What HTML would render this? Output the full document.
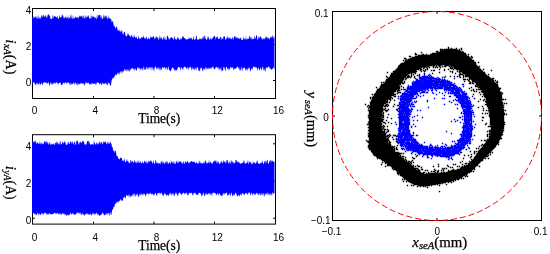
<!DOCTYPE html>
<html><head><meta charset="utf-8"><title>figure</title><style>html,body{margin:0;padding:0;background:#fff;overflow:hidden}svg{display:block}</style></head><body>
<svg width="550" height="254" viewBox="0 0 550 254">
<rect width="550" height="254" fill="#fff"/>
<g fill="none" stroke="#000" stroke-width="1">
<rect x="32.5" y="8.5" width="243.0" height="90.0"/>
<path d="M93.5,98.5V96.0M93.5,8.5V11.0M154.0,98.5V96.0M154.0,8.5V11.0M214.5,98.5V96.0M214.5,8.5V11.0M32.5,44.5H35.0M275.5,44.5H273.0M32.5,80.5H35.0M275.5,80.5H273.0"/>
</g>
<g fill="none" stroke="#000" stroke-width="1">
<rect x="32.5" y="134.7" width="243.0" height="89.4"/>
<path d="M93.5,224.1V221.6M93.5,134.7V137.2M154.0,224.1V221.6M154.0,134.7V137.2M214.5,224.1V221.6M214.5,134.7V137.2M32.5,143.8H35.0M275.5,143.8H273.0M32.5,181.0H35.0M275.5,181.0H273.0M32.5,218.2H35.0M275.5,218.2H273.0"/>
</g>
<polygon fill="#0000ff" points="32.0,19.1 32.5,15.3 33.0,19.0 33.5,17.4 34.0,15.7 34.5,17.9 35.0,17.6 35.5,15.7 36.0,18.4 36.5,16.0 37.0,19.2 37.5,18.3 38.0,14.6 38.5,17.4 39.0,19.2 39.5,17.9 40.0,16.2 40.5,18.7 41.0,18.3 41.5,15.8 42.0,15.0 42.5,16.1 43.0,17.7 43.5,14.7 44.0,14.9 44.5,17.4 45.0,16.0 45.5,14.7 46.0,16.9 46.5,16.6 47.0,18.8 47.5,15.6 48.0,14.3 48.5,14.9 49.0,14.0 49.5,16.6 50.0,15.4 50.5,19.1 51.0,19.1 51.5,18.7 52.0,19.0 52.5,17.3 53.0,14.0 53.5,18.7 54.0,15.9 54.5,16.1 55.0,16.7 55.5,16.2 56.0,16.9 56.5,17.3 57.0,17.4 57.5,15.5 58.0,19.2 58.5,18.7 59.0,17.9 59.5,14.4 60.0,18.1 60.5,17.4 61.0,17.0 61.5,16.9 62.0,14.1 62.5,15.7 63.0,15.1 63.5,17.4 64.0,18.5 64.5,18.2 65.0,16.8 65.5,17.6 66.0,15.9 66.5,18.8 67.0,17.8 67.5,18.1 68.0,14.3 68.5,18.9 69.0,18.1 69.5,17.0 70.0,19.0 70.5,16.2 71.0,13.7 71.5,17.0 72.0,19.1 72.5,18.8 73.0,14.2 73.5,19.2 74.0,17.7 74.5,18.6 75.0,17.8 75.5,16.0 76.0,18.0 76.5,17.3 77.0,17.2 77.5,17.6 78.0,16.9 78.5,19.2 79.0,15.5 79.5,16.9 80.0,14.7 80.5,17.0 81.0,16.2 81.5,16.2 82.0,15.4 82.5,19.2 83.0,14.8 83.5,16.4 84.0,18.0 84.5,19.1 85.0,14.7 85.5,18.9 86.0,14.6 86.5,18.4 87.0,16.3 87.5,17.3 88.0,15.8 88.5,15.2 89.0,17.6 89.5,18.4 90.0,18.7 90.5,18.8 91.0,14.5 91.5,18.9 92.0,14.6 92.5,17.7 93.0,15.7 93.5,16.4 94.0,18.0 94.5,16.8 95.0,17.2 95.5,17.6 96.0,18.8 96.5,19.2 97.0,13.8 97.5,18.4 98.0,16.6 98.5,15.1 99.0,14.7 99.5,15.2 100.0,14.4 100.5,16.6 101.0,18.7 101.5,14.3 102.0,19.2 102.5,18.2 103.0,18.9 103.5,14.0 104.0,17.9 104.5,15.0 105.0,19.1 105.5,14.8 106.0,16.3 106.5,16.4 107.0,17.0 107.5,18.8 108.0,19.2 108.5,14.7 109.0,19.1 109.5,18.2 110.0,17.7 110.5,19.0 111.0,19.1 111.5,21.0 112.0,23.1 112.5,21.0 113.0,21.0 113.5,24.3 114.0,26.4 114.5,25.8 115.0,27.3 115.5,28.5 116.0,28.3 116.5,26.5 117.0,25.8 117.5,30.0 118.0,31.1 118.5,29.4 119.0,31.4 119.5,29.0 120.0,32.9 120.5,30.1 121.0,32.4 121.5,30.8 122.0,29.7 122.5,33.4 123.0,34.3 123.5,34.8 124.0,31.3 124.5,32.0 125.0,31.9 125.5,35.7 126.0,35.6 126.5,36.5 127.0,36.8 127.5,32.5 128.0,36.0 128.5,33.3 129.0,34.8 129.5,35.7 130.0,35.9 130.5,37.7 131.0,34.9 131.5,34.9 132.0,37.1 132.5,37.2 133.0,34.7 133.5,38.0 134.0,37.3 134.5,33.9 135.0,38.2 135.5,37.1 136.0,37.8 136.5,36.2 137.0,38.4 137.5,38.9 138.0,39.0 138.5,35.8 139.0,37.5 139.5,38.7 140.0,38.9 140.5,38.3 141.0,38.7 141.5,36.5 142.0,37.7 142.5,37.3 143.0,37.3 143.5,35.0 144.0,38.4 144.5,38.4 145.0,36.9 145.5,39.5 146.0,37.3 146.5,36.3 147.0,39.3 147.5,39.6 148.0,38.0 148.5,37.5 149.0,39.0 149.5,38.7 150.0,39.8 150.5,35.4 151.0,37.8 151.5,37.0 152.0,37.3 152.5,38.1 153.0,35.9 153.5,36.6 154.0,36.4 154.5,38.8 155.0,39.5 155.5,36.9 156.0,37.6 156.5,37.3 157.0,35.5 157.5,38.7 158.0,37.0 158.5,39.7 159.0,39.8 159.5,36.9 160.0,35.3 160.5,38.7 161.0,38.2 161.5,36.6 162.0,39.7 162.5,39.7 163.0,38.1 163.5,36.5 164.0,39.6 164.5,39.3 165.0,35.2 165.5,39.7 166.0,40.0 166.5,39.9 167.0,35.4 167.5,35.7 168.0,36.9 168.5,37.5 169.0,40.0 169.5,39.2 170.0,38.1 170.5,37.5 171.0,38.4 171.5,36.4 172.0,38.2 172.5,37.5 173.0,38.6 173.5,39.2 174.0,39.8 174.5,36.0 175.0,37.1 175.5,39.9 176.0,38.4 176.5,39.8 177.0,39.7 177.5,37.1 178.0,37.5 178.5,38.3 179.0,39.3 179.5,39.7 180.0,39.9 180.5,39.1 181.0,37.0 181.5,39.6 182.0,38.7 182.5,36.4 183.0,36.2 183.5,36.2 184.0,38.5 184.5,37.8 185.0,38.5 185.5,38.4 186.0,40.0 186.5,38.7 187.0,39.8 187.5,39.2 188.0,38.7 188.5,39.2 189.0,36.6 189.5,39.5 190.0,37.8 190.5,37.9 191.0,39.3 191.5,36.9 192.0,39.2 192.5,39.8 193.0,38.9 193.5,35.6 194.0,39.8 194.5,40.0 195.0,39.1 195.5,39.7 196.0,35.9 196.5,35.2 197.0,39.1 197.5,39.7 198.0,39.6 198.5,39.3 199.0,40.0 199.5,38.6 200.0,38.2 200.5,39.6 201.0,38.3 201.5,39.1 202.0,39.9 202.5,36.4 203.0,38.7 203.5,35.4 204.0,39.8 204.5,35.6 205.0,35.5 205.5,38.2 206.0,38.9 206.5,39.8 207.0,40.0 207.5,37.7 208.0,36.0 208.5,37.6 209.0,38.3 209.5,39.9 210.0,39.5 210.5,37.5 211.0,39.4 211.5,39.7 212.0,37.1 212.5,39.3 213.0,37.7 213.5,36.1 214.0,37.5 214.5,35.6 215.0,35.7 215.5,40.0 216.0,36.9 216.5,37.4 217.0,37.5 217.5,35.6 218.0,39.0 218.5,38.8 219.0,39.1 219.5,39.1 220.0,36.8 220.5,37.4 221.0,36.6 221.5,39.7 222.0,39.3 222.5,37.6 223.0,39.9 223.5,36.1 224.0,37.1 224.5,36.1 225.0,36.9 225.5,40.0 226.0,39.8 226.5,38.5 227.0,37.5 227.5,37.6 228.0,35.5 228.5,39.3 229.0,37.5 229.5,37.8 230.0,39.2 230.5,37.6 231.0,39.2 231.5,38.3 232.0,39.7 232.5,37.4 233.0,36.3 233.5,39.9 234.0,38.0 234.5,35.7 235.0,36.5 235.5,38.2 236.0,35.3 236.5,38.7 237.0,37.5 237.5,37.5 238.0,38.9 238.5,38.0 239.0,37.7 239.5,39.1 240.0,38.7 240.5,38.1 241.0,37.3 241.5,40.0 242.0,39.9 242.5,40.0 243.0,39.7 243.5,36.0 244.0,39.4 244.5,38.7 245.0,38.4 245.5,39.9 246.0,35.4 246.5,39.9 247.0,39.0 247.5,39.4 248.0,37.2 248.5,38.9 249.0,38.9 249.5,35.6 250.0,36.3 250.5,39.5 251.0,36.1 251.5,39.8 252.0,36.8 252.5,39.9 253.0,38.7 253.5,39.0 254.0,39.0 254.5,35.2 255.0,39.1 255.5,38.5 256.0,36.0 256.5,35.2 257.0,35.3 257.5,39.9 258.0,39.7 258.5,36.0 259.0,39.1 259.5,36.1 260.0,38.4 260.5,36.5 261.0,35.7 261.5,39.5 262.0,37.0 262.5,39.9 263.0,39.5 263.5,38.4 264.0,37.9 264.5,38.4 265.0,39.8 265.5,37.4 266.0,35.7 266.5,37.8 267.0,36.9 267.5,37.4 268.0,38.9 268.5,37.3 269.0,39.1 269.5,39.2 270.0,37.7 270.5,37.1 271.0,36.9 271.5,38.1 272.0,35.4 272.5,35.5 273.0,38.8 273.5,37.5 274.0,35.7 274.5,37.6 274.5,70.7 274.0,67.8 273.5,67.5 273.0,68.3 272.5,69.2 272.0,68.3 271.5,70.2 271.0,69.4 270.5,68.0 270.0,69.5 269.5,67.2 269.0,66.6 268.5,66.7 268.0,66.8 267.5,69.1 267.0,66.6 266.5,68.4 266.0,66.7 265.5,71.6 265.0,71.4 264.5,68.2 264.0,71.1 263.5,69.9 263.0,66.8 262.5,66.7 262.0,69.3 261.5,69.2 261.0,70.8 260.5,66.9 260.0,68.8 259.5,70.7 259.0,68.8 258.5,67.1 258.0,69.9 257.5,70.6 257.0,67.6 256.5,67.9 256.0,67.0 255.5,67.6 255.0,67.5 254.5,66.9 254.0,66.6 253.5,66.8 253.0,67.1 252.5,70.1 252.0,68.7 251.5,68.2 251.0,69.8 250.5,71.6 250.0,70.7 249.5,66.6 249.0,69.5 248.5,68.0 248.0,67.5 247.5,71.3 247.0,67.8 246.5,71.1 246.0,68.8 245.5,70.8 245.0,68.0 244.5,67.5 244.0,67.4 243.5,68.3 243.0,68.3 242.5,71.7 242.0,67.1 241.5,66.8 241.0,71.7 240.5,68.8 240.0,70.5 239.5,69.9 239.0,66.6 238.5,68.8 238.0,68.1 237.5,66.6 237.0,66.7 236.5,68.3 236.0,67.7 235.5,68.5 235.0,69.3 234.5,68.5 234.0,70.0 233.5,69.7 233.0,66.8 232.5,67.6 232.0,68.6 231.5,67.8 231.0,67.0 230.5,66.7 230.0,69.8 229.5,68.1 229.0,71.2 228.5,68.9 228.0,67.9 227.5,70.1 227.0,67.0 226.5,67.3 226.0,66.9 225.5,70.9 225.0,70.3 224.5,68.0 224.0,66.6 223.5,67.2 223.0,71.3 222.5,70.8 222.0,70.2 221.5,71.5 221.0,66.7 220.5,70.3 220.0,67.5 219.5,70.9 219.0,66.8 218.5,68.2 218.0,70.1 217.5,66.7 217.0,67.8 216.5,66.8 216.0,67.6 215.5,67.6 215.0,68.9 214.5,69.8 214.0,69.2 213.5,67.3 213.0,67.4 212.5,66.9 212.0,66.8 211.5,69.4 211.0,67.3 210.5,69.0 210.0,68.0 209.5,69.3 209.0,66.7 208.5,69.0 208.0,69.5 207.5,68.6 207.0,68.4 206.5,66.9 206.0,71.2 205.5,66.7 205.0,68.3 204.5,69.3 204.0,70.6 203.5,67.5 203.0,71.6 202.5,70.8 202.0,68.5 201.5,67.5 201.0,68.5 200.5,67.3 200.0,71.4 199.5,69.9 199.0,71.2 198.5,70.9 198.0,67.0 197.5,68.1 197.0,66.7 196.5,70.7 196.0,67.0 195.5,70.5 195.0,66.8 194.5,70.4 194.0,69.0 193.5,68.5 193.0,69.4 192.5,66.6 192.0,70.9 191.5,69.5 191.0,66.9 190.5,66.7 190.0,68.4 189.5,67.4 189.0,66.6 188.5,69.7 188.0,69.4 187.5,66.7 187.0,68.4 186.5,68.7 186.0,68.0 185.5,67.0 185.0,66.9 184.5,66.6 184.0,66.9 183.5,67.6 183.0,70.4 182.5,68.2 182.0,69.3 181.5,66.8 181.0,68.1 180.5,71.7 180.0,66.6 179.5,68.0 179.0,67.4 178.5,66.7 178.0,67.2 177.5,68.6 177.0,71.5 176.5,70.0 176.0,69.6 175.5,70.9 175.0,69.0 174.5,70.6 174.0,70.4 173.5,67.1 173.0,69.3 172.5,67.1 172.0,68.1 171.5,68.9 171.0,70.7 170.5,71.6 170.0,70.2 169.5,70.0 169.0,70.6 168.5,66.7 168.0,66.6 167.5,71.0 167.0,68.5 166.5,66.7 166.0,70.3 165.5,68.3 165.0,67.0 164.5,66.7 164.0,69.2 163.5,67.8 163.0,67.3 162.5,67.0 162.0,68.6 161.5,70.8 161.0,67.7 160.5,70.9 160.0,66.7 159.5,71.3 159.0,67.2 158.5,67.6 158.0,70.3 157.5,68.0 157.0,67.9 156.5,70.0 156.0,66.8 155.5,66.7 155.0,66.8 154.5,68.6 154.0,71.7 153.5,67.9 153.0,70.9 152.5,67.4 152.0,66.9 151.5,67.5 151.0,71.2 150.5,66.7 150.0,67.4 149.5,67.1 149.0,69.8 148.5,66.8 148.0,69.8 147.5,67.0 147.0,70.4 146.5,66.8 146.0,67.6 145.5,70.6 145.0,69.0 144.5,70.5 144.0,66.8 143.5,66.9 143.0,71.3 142.5,69.2 142.0,68.2 141.5,68.1 141.0,70.2 140.5,68.3 140.0,71.0 139.5,67.0 139.0,68.5 138.5,68.2 138.0,67.2 137.5,67.2 137.0,69.8 136.5,70.9 136.0,69.5 135.5,69.4 135.0,67.6 134.5,71.6 134.0,68.3 133.5,70.5 133.0,67.7 132.5,68.2 132.0,68.2 131.5,68.4 131.0,70.2 130.5,70.1 130.0,67.9 129.5,72.8 129.0,69.9 128.5,71.6 128.0,68.6 127.5,71.7 127.0,68.4 126.5,72.0 126.0,68.8 125.5,71.7 125.0,69.0 124.5,69.3 124.0,70.9 123.5,71.2 123.0,71.7 122.5,71.2 122.0,74.4 121.5,70.1 121.0,72.7 120.5,72.2 120.0,70.8 119.5,75.5 119.0,72.3 118.5,74.5 118.0,72.5 117.5,73.1 117.0,75.3 116.5,75.1 116.0,74.0 115.5,74.4 115.0,76.7 114.5,75.4 114.0,78.7 113.5,78.0 113.0,76.8 112.5,79.3 112.0,79.1 111.5,81.1 111.0,85.5 110.5,85.6 110.0,85.6 109.5,83.2 109.0,82.9 108.5,82.3 108.0,84.2 107.5,85.9 107.0,82.3 106.5,84.4 106.0,84.6 105.5,83.3 105.0,82.3 104.5,84.5 104.0,83.4 103.5,83.4 103.0,84.7 102.5,82.1 102.0,84.1 101.5,85.4 101.0,83.3 100.5,83.6 100.0,83.3 99.5,84.8 99.0,83.2 98.5,82.3 98.0,83.3 97.5,82.3 97.0,82.4 96.5,85.0 96.0,82.1 95.5,85.4 95.0,82.7 94.5,84.2 94.0,84.0 93.5,84.1 93.0,83.1 92.5,84.3 92.0,82.3 91.5,83.9 91.0,85.2 90.5,83.8 90.0,83.5 89.5,85.2 89.0,83.6 88.5,83.0 88.0,81.9 87.5,84.0 87.0,82.2 86.5,82.8 86.0,82.9 85.5,82.1 85.0,85.7 84.5,85.1 84.0,84.3 83.5,82.9 83.0,83.9 82.5,83.5 82.0,83.2 81.5,83.8 81.0,82.6 80.5,83.6 80.0,84.2 79.5,84.1 79.0,84.2 78.5,82.7 78.0,85.7 77.5,85.2 77.0,82.2 76.5,84.7 76.0,84.6 75.5,82.6 75.0,82.4 74.5,84.1 74.0,85.0 73.5,82.0 73.0,83.5 72.5,84.6 72.0,83.7 71.5,85.2 71.0,82.1 70.5,85.2 70.0,83.0 69.5,85.5 69.0,82.3 68.5,82.5 68.0,82.4 67.5,82.3 67.0,84.1 66.5,83.4 66.0,82.0 65.5,82.9 65.0,82.0 64.5,83.8 64.0,83.6 63.5,82.7 63.0,82.4 62.5,84.8 62.0,85.0 61.5,84.5 61.0,85.4 60.5,82.0 60.0,82.7 59.5,82.9 59.0,82.8 58.5,84.5 58.0,83.4 57.5,82.9 57.0,83.5 56.5,82.1 56.0,82.3 55.5,83.4 55.0,84.1 54.5,82.8 54.0,81.9 53.5,83.5 53.0,84.3 52.5,85.0 52.0,82.5 51.5,85.1 51.0,82.2 50.5,82.8 50.0,84.7 49.5,85.7 49.0,83.9 48.5,82.2 48.0,82.3 47.5,83.6 47.0,84.5 46.5,82.2 46.0,82.9 45.5,82.5 45.0,82.5 44.5,82.1 44.0,82.9 43.5,82.0 43.0,84.5 42.5,84.9 42.0,84.0 41.5,82.3 41.0,84.5 40.5,83.9 40.0,85.5 39.5,82.0 39.0,84.3 38.5,84.6 38.0,83.7 37.5,82.6 37.0,85.7 36.5,82.5 36.0,84.0 35.5,85.6 35.0,83.7 34.5,83.4 34.0,82.1 33.5,82.2 33.0,83.0 32.5,83.7 32.0,82.4"/>
<polygon fill="#0000ff" points="32.0,140.8 32.5,140.6 33.0,142.8 33.5,141.7 34.0,141.3 34.5,141.1 35.0,143.7 35.5,140.5 36.0,140.6 36.5,144.7 37.0,142.3 37.5,142.5 38.0,143.4 38.5,143.4 39.0,144.0 39.5,143.3 40.0,140.8 40.5,144.4 41.0,143.4 41.5,143.5 42.0,142.3 42.5,144.6 43.0,144.0 43.5,144.5 44.0,141.2 44.5,142.1 45.0,141.0 45.5,141.6 46.0,143.9 46.5,140.6 47.0,143.4 47.5,141.1 48.0,144.2 48.5,144.8 49.0,141.2 49.5,144.5 50.0,141.8 50.5,144.5 51.0,144.9 51.5,143.2 52.0,144.9 52.5,144.0 53.0,144.1 53.5,143.0 54.0,144.9 54.5,144.9 55.0,143.5 55.5,142.5 56.0,143.4 56.5,140.8 57.0,144.9 57.5,142.3 58.0,142.0 58.5,143.9 59.0,144.6 59.5,144.3 60.0,141.0 60.5,141.6 61.0,145.0 61.5,143.4 62.0,144.0 62.5,141.4 63.0,142.0 63.5,143.2 64.0,143.4 64.5,141.1 65.0,141.5 65.5,142.7 66.0,144.9 66.5,144.9 67.0,144.5 67.5,144.5 68.0,141.5 68.5,142.3 69.0,143.9 69.5,143.9 70.0,141.9 70.5,141.8 71.0,140.9 71.5,144.1 72.0,141.8 72.5,141.2 73.0,144.2 73.5,144.3 74.0,142.0 74.5,142.7 75.0,140.6 75.5,144.9 76.0,145.0 76.5,140.4 77.0,140.9 77.5,140.6 78.0,141.5 78.5,143.9 79.0,145.0 79.5,142.0 80.0,142.7 80.5,141.1 81.0,142.9 81.5,143.2 82.0,141.6 82.5,141.6 83.0,141.0 83.5,141.0 84.0,142.1 84.5,144.8 85.0,144.3 85.5,144.5 86.0,144.8 86.5,144.3 87.0,141.7 87.5,141.2 88.0,140.8 88.5,140.4 89.0,144.2 89.5,140.8 90.0,144.4 90.5,144.4 91.0,144.6 91.5,144.2 92.0,144.4 92.5,144.1 93.0,144.7 93.5,144.7 94.0,140.4 94.5,142.6 95.0,143.5 95.5,145.0 96.0,143.6 96.5,142.1 97.0,144.9 97.5,144.1 98.0,142.1 98.5,143.8 99.0,144.8 99.5,141.1 100.0,142.1 100.5,143.0 101.0,144.1 101.5,142.0 102.0,141.5 102.5,144.4 103.0,144.1 103.5,141.0 104.0,142.1 104.5,141.8 105.0,143.1 105.5,140.7 106.0,142.3 106.5,144.5 107.0,143.5 107.5,143.3 108.0,140.5 108.5,143.7 109.0,143.7 109.5,143.7 110.0,140.9 110.5,142.4 111.0,143.3 111.5,144.0 112.0,147.3 112.5,146.5 113.0,149.7 113.5,151.4 114.0,149.4 114.5,153.4 115.0,150.4 115.5,151.1 116.0,151.6 116.5,156.0 117.0,155.9 117.5,156.1 118.0,158.1 118.5,158.5 119.0,158.9 119.5,159.5 120.0,158.6 120.5,157.3 121.0,157.9 121.5,158.0 122.0,158.5 122.5,161.4 123.0,160.1 123.5,161.8 124.0,160.1 124.5,158.0 125.0,161.8 125.5,162.2 126.0,162.1 126.5,160.5 127.0,158.9 127.5,161.3 128.0,161.5 128.5,161.4 129.0,163.2 129.5,162.7 130.0,163.4 130.5,159.8 131.0,160.3 131.5,161.5 132.0,163.1 132.5,160.4 133.0,161.3 133.5,162.7 134.0,162.8 134.5,159.6 135.0,161.8 135.5,161.5 136.0,163.7 136.5,163.0 137.0,160.6 137.5,163.5 138.0,159.7 138.5,161.7 139.0,162.9 139.5,163.5 140.0,160.0 140.5,161.8 141.0,163.3 141.5,162.7 142.0,163.6 142.5,160.4 143.0,163.5 143.5,163.3 144.0,162.1 144.5,160.4 145.0,161.7 145.5,161.6 146.0,164.0 146.5,160.2 147.0,164.2 147.5,161.6 148.0,163.8 148.5,160.2 149.0,161.5 149.5,161.6 150.0,162.6 150.5,159.6 151.0,160.8 151.5,161.2 152.0,162.3 152.5,164.1 153.0,162.0 153.5,160.1 154.0,163.2 154.5,163.7 155.0,163.8 155.5,159.9 156.0,160.3 156.5,163.8 157.0,162.1 157.5,163.1 158.0,164.0 158.5,162.5 159.0,164.1 159.5,162.6 160.0,164.2 160.5,164.1 161.0,160.0 161.5,163.1 162.0,161.0 162.5,164.1 163.0,160.1 163.5,163.7 164.0,161.6 164.5,164.1 165.0,164.1 165.5,161.8 166.0,162.0 166.5,160.7 167.0,164.2 167.5,160.9 168.0,162.9 168.5,164.2 169.0,162.4 169.5,161.7 170.0,163.5 170.5,163.9 171.0,160.6 171.5,161.6 172.0,163.0 172.5,162.7 173.0,161.0 173.5,164.0 174.0,160.4 174.5,163.7 175.0,164.0 175.5,164.0 176.0,161.0 176.5,162.5 177.0,159.7 177.5,163.5 178.0,161.9 178.5,163.5 179.0,159.9 179.5,162.2 180.0,161.5 180.5,161.3 181.0,161.9 181.5,161.7 182.0,164.1 182.5,163.8 183.0,162.0 183.5,161.0 184.0,163.9 184.5,164.1 185.0,161.6 185.5,161.5 186.0,162.1 186.5,163.3 187.0,161.2 187.5,160.6 188.0,162.3 188.5,163.4 189.0,161.6 189.5,164.1 190.0,161.4 190.5,162.5 191.0,160.8 191.5,161.3 192.0,161.6 192.5,162.0 193.0,161.6 193.5,162.0 194.0,161.7 194.5,161.7 195.0,162.7 195.5,164.0 196.0,161.4 196.5,162.7 197.0,163.1 197.5,162.9 198.0,164.1 198.5,164.2 199.0,159.8 199.5,163.2 200.0,160.6 200.5,163.1 201.0,163.7 201.5,163.2 202.0,162.8 202.5,164.2 203.0,162.1 203.5,162.3 204.0,163.9 204.5,162.7 205.0,161.4 205.5,160.6 206.0,160.6 206.5,163.8 207.0,163.4 207.5,163.1 208.0,162.6 208.5,162.9 209.0,159.9 209.5,164.2 210.0,160.0 210.5,162.5 211.0,162.9 211.5,162.6 212.0,164.0 212.5,163.7 213.0,161.9 213.5,161.2 214.0,162.3 214.5,160.7 215.0,159.9 215.5,162.1 216.0,159.8 216.5,162.1 217.0,164.1 217.5,160.4 218.0,164.0 218.5,160.7 219.0,162.6 219.5,164.2 220.0,164.0 220.5,161.5 221.0,163.7 221.5,161.0 222.0,160.8 222.5,163.2 223.0,162.9 223.5,159.6 224.0,162.5 224.5,161.8 225.0,161.0 225.5,162.4 226.0,163.9 226.5,160.5 227.0,159.7 227.5,159.7 228.0,162.5 228.5,164.0 229.0,161.3 229.5,163.4 230.0,159.8 230.5,163.3 231.0,163.9 231.5,159.7 232.0,162.0 232.5,160.8 233.0,164.1 233.5,161.6 234.0,163.5 234.5,163.1 235.0,163.3 235.5,159.7 236.0,160.6 236.5,159.8 237.0,163.2 237.5,161.2 238.0,161.4 238.5,163.0 239.0,161.0 239.5,163.6 240.0,162.6 240.5,164.1 241.0,163.7 241.5,163.0 242.0,163.2 242.5,163.3 243.0,162.1 243.5,160.1 244.0,163.9 244.5,159.9 245.0,164.1 245.5,163.8 246.0,162.9 246.5,162.4 247.0,163.6 247.5,162.0 248.0,159.7 248.5,163.7 249.0,164.2 249.5,160.7 250.0,162.7 250.5,161.8 251.0,162.2 251.5,164.2 252.0,164.1 252.5,164.2 253.0,160.6 253.5,163.6 254.0,161.7 254.5,163.3 255.0,162.6 255.5,163.7 256.0,163.4 256.5,162.3 257.0,160.2 257.5,161.1 258.0,163.9 258.5,162.7 259.0,164.0 259.5,163.8 260.0,164.0 260.5,162.0 261.0,164.1 261.5,162.3 262.0,162.5 262.5,159.9 263.0,164.0 263.5,163.8 264.0,162.9 264.5,161.7 265.0,160.6 265.5,161.1 266.0,163.9 266.5,161.4 267.0,160.3 267.5,159.6 268.0,163.2 268.5,164.0 269.0,162.8 269.5,161.1 270.0,160.7 270.5,159.6 271.0,163.3 271.5,160.5 272.0,160.6 272.5,160.9 273.0,161.3 273.5,162.2 274.0,161.1 274.5,162.7 274.5,193.5 274.0,193.1 273.5,194.3 273.0,192.4 272.5,192.6 272.0,196.3 271.5,192.9 271.0,196.4 270.5,192.4 270.0,195.9 269.5,193.6 269.0,194.7 268.5,194.5 268.0,192.7 267.5,192.4 267.0,196.5 266.5,192.7 266.0,194.3 265.5,194.4 265.0,192.7 264.5,196.4 264.0,196.5 263.5,193.6 263.0,193.1 262.5,196.0 262.0,192.6 261.5,194.3 261.0,195.8 260.5,195.2 260.0,192.7 259.5,193.4 259.0,195.6 258.5,195.3 258.0,192.4 257.5,194.7 257.0,193.2 256.5,192.8 256.0,193.6 255.5,195.5 255.0,193.5 254.5,195.0 254.0,192.7 253.5,193.6 253.0,195.4 252.5,195.3 252.0,193.0 251.5,192.5 251.0,195.0 250.5,195.5 250.0,192.8 249.5,192.4 249.0,192.5 248.5,192.8 248.0,194.6 247.5,194.9 247.0,192.6 246.5,194.1 246.0,192.5 245.5,193.4 245.0,194.0 244.5,194.3 244.0,196.1 243.5,193.4 243.0,194.1 242.5,193.0 242.0,193.3 241.5,195.7 241.0,195.3 240.5,193.2 240.0,195.7 239.5,196.7 239.0,194.0 238.5,195.7 238.0,195.5 237.5,196.6 237.0,195.6 236.5,194.7 236.0,192.5 235.5,192.9 235.0,193.8 234.5,194.9 234.0,195.9 233.5,194.0 233.0,195.2 232.5,196.4 232.0,195.2 231.5,192.6 231.0,193.1 230.5,195.8 230.0,196.3 229.5,192.5 229.0,195.2 228.5,194.3 228.0,196.1 227.5,195.2 227.0,193.3 226.5,192.6 226.0,192.8 225.5,194.1 225.0,193.0 224.5,193.5 224.0,195.6 223.5,192.7 223.0,193.6 222.5,195.6 222.0,196.5 221.5,194.7 221.0,196.7 220.5,194.9 220.0,194.5 219.5,193.5 219.0,192.8 218.5,196.1 218.0,194.4 217.5,193.0 217.0,194.0 216.5,196.1 216.0,193.4 215.5,193.7 215.0,192.9 214.5,192.9 214.0,192.6 213.5,192.7 213.0,193.3 212.5,192.5 212.0,196.6 211.5,194.6 211.0,193.3 210.5,193.4 210.0,196.5 209.5,192.8 209.0,194.3 208.5,192.5 208.0,194.6 207.5,194.1 207.0,195.6 206.5,192.6 206.0,195.0 205.5,192.6 205.0,196.4 204.5,196.1 204.0,195.0 203.5,192.4 203.0,193.1 202.5,195.8 202.0,195.1 201.5,196.4 201.0,194.2 200.5,193.3 200.0,192.7 199.5,192.7 199.0,192.9 198.5,193.2 198.0,195.6 197.5,195.3 197.0,193.8 196.5,194.9 196.0,194.6 195.5,192.8 195.0,193.8 194.5,192.7 194.0,192.6 193.5,194.0 193.0,195.4 192.5,195.3 192.0,192.7 191.5,193.3 191.0,192.5 190.5,193.7 190.0,192.5 189.5,192.6 189.0,195.0 188.5,194.6 188.0,192.6 187.5,196.0 187.0,194.8 186.5,192.5 186.0,192.4 185.5,193.4 185.0,193.4 184.5,194.5 184.0,192.6 183.5,192.4 183.0,193.5 182.5,193.8 182.0,193.3 181.5,195.8 181.0,193.9 180.5,194.1 180.0,192.4 179.5,192.8 179.0,192.4 178.5,195.6 178.0,192.7 177.5,196.7 177.0,195.3 176.5,193.3 176.0,192.6 175.5,192.9 175.0,194.8 174.5,195.4 174.0,196.8 173.5,193.5 173.0,193.0 172.5,193.5 172.0,195.6 171.5,193.2 171.0,196.6 170.5,192.4 170.0,193.0 169.5,193.8 169.0,194.4 168.5,196.2 168.0,195.4 167.5,194.5 167.0,195.2 166.5,195.9 166.0,193.7 165.5,195.3 165.0,192.6 164.5,194.1 164.0,193.4 163.5,196.8 163.0,195.5 162.5,195.3 162.0,194.1 161.5,192.8 161.0,192.6 160.5,193.6 160.0,194.8 159.5,192.5 159.0,192.8 158.5,193.5 158.0,192.7 157.5,193.2 157.0,195.5 156.5,195.7 156.0,194.3 155.5,192.7 155.0,193.3 154.5,195.2 154.0,193.9 153.5,196.4 153.0,193.3 152.5,194.7 152.0,193.4 151.5,194.2 151.0,194.7 150.5,192.8 150.0,192.7 149.5,193.8 149.0,194.5 148.5,194.6 148.0,193.5 147.5,193.0 147.0,194.0 146.5,193.6 146.0,196.3 145.5,196.4 145.0,194.0 144.5,194.0 144.0,194.3 143.5,193.3 143.0,195.8 142.5,194.1 142.0,194.8 141.5,192.9 141.0,196.7 140.5,193.1 140.0,196.1 139.5,193.5 139.0,196.1 138.5,197.2 138.0,195.9 137.5,194.1 137.0,193.2 136.5,195.8 136.0,194.3 135.5,197.5 135.0,193.7 134.5,193.5 134.0,197.3 133.5,194.3 133.0,193.6 132.5,195.3 132.0,196.5 131.5,196.6 131.0,194.6 130.5,196.8 130.0,197.6 129.5,194.3 129.0,198.1 128.5,194.7 128.0,194.7 127.5,196.8 127.0,195.1 126.5,195.6 126.0,195.3 125.5,199.2 125.0,197.8 124.5,196.6 124.0,197.9 123.5,197.0 123.0,200.1 122.5,201.0 122.0,200.7 121.5,199.4 121.0,201.4 120.5,198.8 120.0,200.0 119.5,201.1 119.0,201.5 118.5,202.8 118.0,200.7 117.5,202.2 117.0,202.4 116.5,202.1 116.0,204.3 115.5,203.1 115.0,204.1 114.5,206.7 114.0,206.7 113.5,206.9 113.0,209.4 112.5,209.4 112.0,210.6 111.5,214.6 111.0,215.2 110.5,212.6 110.0,212.4 109.5,214.9 109.0,215.9 108.5,212.5 108.0,213.6 107.5,212.7 107.0,215.4 106.5,212.5 106.0,215.7 105.5,213.4 105.0,214.8 104.5,215.3 104.0,215.6 103.5,213.8 103.0,212.7 102.5,212.4 102.0,214.4 101.5,214.1 101.0,214.8 100.5,215.2 100.0,215.4 99.5,215.8 99.0,215.4 98.5,213.4 98.0,215.6 97.5,214.8 97.0,212.8 96.5,212.4 96.0,214.4 95.5,213.2 95.0,215.5 94.5,213.8 94.0,213.4 93.5,212.9 93.0,215.1 92.5,212.4 92.0,215.6 91.5,215.2 91.0,214.5 90.5,214.2 90.0,212.9 89.5,215.6 89.0,213.8 88.5,214.6 88.0,214.8 87.5,213.7 87.0,213.2 86.5,213.6 86.0,215.0 85.5,213.6 85.0,215.1 84.5,215.3 84.0,215.7 83.5,214.5 83.0,213.7 82.5,212.8 82.0,214.5 81.5,214.4 81.0,215.4 80.5,212.6 80.0,212.9 79.5,212.6 79.0,214.7 78.5,212.6 78.0,213.0 77.5,212.6 77.0,212.4 76.5,213.6 76.0,214.4 75.5,214.2 75.0,214.3 74.5,214.9 74.0,215.3 73.5,213.6 73.0,213.2 72.5,213.4 72.0,214.2 71.5,214.3 71.0,214.5 70.5,212.5 70.0,213.2 69.5,215.6 69.0,214.7 68.5,215.1 68.0,215.9 67.5,213.8 67.0,215.8 66.5,215.7 66.0,214.9 65.5,214.8 65.0,213.2 64.5,215.8 64.0,212.5 63.5,214.2 63.0,214.1 62.5,213.1 62.0,213.9 61.5,215.5 61.0,213.0 60.5,214.2 60.0,215.0 59.5,213.4 59.0,212.9 58.5,214.7 58.0,213.7 57.5,213.1 57.0,212.6 56.5,214.0 56.0,214.1 55.5,213.6 55.0,212.5 54.5,213.3 54.0,212.8 53.5,214.1 53.0,214.2 52.5,213.7 52.0,214.3 51.5,214.5 51.0,214.5 50.5,213.7 50.0,214.2 49.5,212.5 49.0,215.6 48.5,213.3 48.0,215.0 47.5,213.3 47.0,215.8 46.5,213.4 46.0,213.1 45.5,212.9 45.0,213.8 44.5,212.4 44.0,213.3 43.5,215.8 43.0,212.7 42.5,213.5 42.0,214.8 41.5,212.8 41.0,214.4 40.5,215.6 40.0,214.0 39.5,214.2 39.0,212.8 38.5,215.8 38.0,213.6 37.5,212.6 37.0,215.7 36.5,214.1 36.0,215.6 35.5,213.2 35.0,214.9 34.5,213.6 34.0,213.8 33.5,212.7 33.0,213.2 32.5,212.5 32.0,213.7"/>
<text x="34.60" y="114.08" text-anchor="middle" font-family='"Liberation Sans", Arial, Helvetica, sans-serif' font-size="10.0" fill="#000">0</text>
<text x="95.30" y="114.08" text-anchor="middle" font-family='"Liberation Sans", Arial, Helvetica, sans-serif' font-size="10.0" fill="#000">4</text>
<text x="156.60" y="114.08" text-anchor="middle" font-family='"Liberation Sans", Arial, Helvetica, sans-serif' font-size="10.0" fill="#000">8</text>
<text x="217.30" y="114.08" text-anchor="middle" font-family='"Liberation Sans", Arial, Helvetica, sans-serif' font-size="10.0" fill="#000">12</text>
<text x="278.50" y="114.08" text-anchor="middle" font-family='"Liberation Sans", Arial, Helvetica, sans-serif' font-size="10.0" fill="#000">16</text>
<text x="31.20" y="14.08" text-anchor="end" font-family='"Liberation Sans", Arial, Helvetica, sans-serif' font-size="10.0" fill="#000">4</text>
<text x="31.20" y="50.18" text-anchor="end" font-family='"Liberation Sans", Arial, Helvetica, sans-serif' font-size="10.0" fill="#000">2</text>
<text x="31.20" y="86.18" text-anchor="end" font-family='"Liberation Sans", Arial, Helvetica, sans-serif' font-size="10.0" fill="#000">0</text>
<text x="34.60" y="240.88" text-anchor="middle" font-family='"Liberation Sans", Arial, Helvetica, sans-serif' font-size="10.0" fill="#000">0</text>
<text x="95.30" y="240.88" text-anchor="middle" font-family='"Liberation Sans", Arial, Helvetica, sans-serif' font-size="10.0" fill="#000">4</text>
<text x="156.60" y="240.88" text-anchor="middle" font-family='"Liberation Sans", Arial, Helvetica, sans-serif' font-size="10.0" fill="#000">8</text>
<text x="217.30" y="240.88" text-anchor="middle" font-family='"Liberation Sans", Arial, Helvetica, sans-serif' font-size="10.0" fill="#000">12</text>
<text x="278.50" y="240.88" text-anchor="middle" font-family='"Liberation Sans", Arial, Helvetica, sans-serif' font-size="10.0" fill="#000">16</text>
<text x="31.20" y="149.78" text-anchor="end" font-family='"Liberation Sans", Arial, Helvetica, sans-serif' font-size="10.0" fill="#000">4</text>
<text x="31.20" y="186.78" text-anchor="end" font-family='"Liberation Sans", Arial, Helvetica, sans-serif' font-size="10.0" fill="#000">2</text>
<text x="31.20" y="224.18" text-anchor="end" font-family='"Liberation Sans", Arial, Helvetica, sans-serif' font-size="10.0" fill="#000">0</text>
<text x="138.2" y="123.2" font-family='"Liberation Serif", "Times New Roman", serif' font-size="14.0" fill="#000" stroke="#000" stroke-width="0.25" textLength="42.0" lengthAdjust="spacingAndGlyphs" >Time(s)</text>
<text x="138.2" y="249.6" font-family='"Liberation Serif", "Times New Roman", serif' font-size="14.0" fill="#000" stroke="#000" stroke-width="0.25" textLength="42.0" lengthAdjust="spacingAndGlyphs" >Time(s)</text>
<text transform="translate(5.8,39.6) rotate(90)" font-family='"Liberation Serif", "Times New Roman", serif' font-size="15.0" fill="#000" stroke="#000" stroke-width="0.25" textLength="35.0" lengthAdjust="spacingAndGlyphs"><tspan font-style="italic">i</tspan><tspan font-style="italic" font-size="10.8" dx="0.5" dy="1.5">xA</tspan><tspan dy="-1.5">(A)</tspan></text>
<text transform="translate(5.8,165.9) rotate(90)" font-family='"Liberation Serif", "Times New Roman", serif' font-size="15.0" fill="#000" stroke="#000" stroke-width="0.25" textLength="33.8" lengthAdjust="spacingAndGlyphs"><tspan font-style="italic">i</tspan><tspan font-style="italic" font-size="10.8" dx="0.5" dy="1.5">yA</tspan><tspan dy="-1.5">(A)</tspan></text>
<g fill="none" stroke="#000" stroke-width="1">
<rect x="332.5" y="11.5" width="209.0" height="209.0"/>
<path d="M437.0,220.5V218.0M437.0,11.5V14.0M332.5,116.0H335.0M541.5,116.0H539.0"/>
</g>
<path fill="#000" d="M447.8,46.8h1.4v1.4h-1.4zM447.8,47.8h1.4v1.4h-1.4zM450.8,47.8h1.4v1.4h-1.4zM455.8,47.8h1.4v1.4h-1.4zM460.8,47.8h1.4v1.4h-1.4zM439.8,48.8h3.4v1.4h-3.4zM443.8,48.8h13.4v1.4h-13.4zM458.8,48.8h1.4v1.4h-1.4zM460.8,48.8h1.4v1.4h-1.4zM439.8,49.8h1.4v1.4h-1.4zM441.8,49.8h18.4v1.4h-18.4zM435.8,50.8h2.4v1.4h-2.4zM439.8,50.8h21.4v1.4h-21.4zM461.8,50.8h1.4v1.4h-1.4zM420.8,51.8h1.4v1.4h-1.4zM436.8,51.8h27.4v1.4h-27.4zM414.8,52.8h1.4v1.4h-1.4zM431.8,52.8h34.4v1.4h-34.4zM414.8,53.8h2.4v1.4h-2.4zM421.8,53.8h2.4v1.4h-2.4zM425.8,53.8h1.4v1.4h-1.4zM429.8,53.8h36.4v1.4h-36.4zM467.8,53.8h1.4v1.4h-1.4zM417.8,54.8h49.4v1.4h-49.4zM408.8,55.8h2.4v1.4h-2.4zM414.8,55.8h54.4v1.4h-54.4zM470.8,55.8h1.4v1.4h-1.4zM411.8,56.8h58.4v1.4h-58.4zM470.8,56.8h2.4v1.4h-2.4zM403.8,57.8h2.4v1.4h-2.4zM409.8,57.8h61.4v1.4h-61.4zM405.8,58.8h1.4v1.4h-1.4zM407.8,58.8h64.4v1.4h-64.4zM402.8,59.8h1.4v1.4h-1.4zM404.8,59.8h1.4v1.4h-1.4zM406.8,59.8h67.4v1.4h-67.4zM404.8,60.8h69.4v1.4h-69.4zM403.8,61.8h72.4v1.4h-72.4zM477.8,61.8h1.4v1.4h-1.4zM400.8,62.8h75.4v1.4h-75.4zM399.8,63.8h76.4v1.4h-76.4zM398.8,64.8h36.4v1.4h-36.4zM435.8,64.8h1.4v1.4h-1.4zM437.8,64.8h3.4v1.4h-3.4zM444.8,64.8h4.4v1.4h-4.4zM449.8,64.8h27.4v1.4h-27.4zM397.8,65.8h28.4v1.4h-28.4zM426.8,65.8h2.4v1.4h-2.4zM432.8,65.8h1.4v1.4h-1.4zM435.8,65.8h1.4v1.4h-1.4zM438.8,65.8h1.4v1.4h-1.4zM441.8,65.8h1.4v1.4h-1.4zM443.8,65.8h2.4v1.4h-2.4zM448.8,65.8h1.4v1.4h-1.4zM450.8,65.8h1.4v1.4h-1.4zM452.8,65.8h25.4v1.4h-25.4zM478.8,65.8h1.4v1.4h-1.4zM397.8,66.8h24.4v1.4h-24.4zM422.8,66.8h2.4v1.4h-2.4zM425.8,66.8h1.4v1.4h-1.4zM428.8,66.8h1.4v1.4h-1.4zM432.8,66.8h1.4v1.4h-1.4zM434.8,66.8h1.4v1.4h-1.4zM436.8,66.8h1.4v1.4h-1.4zM439.8,66.8h1.4v1.4h-1.4zM449.8,66.8h1.4v1.4h-1.4zM451.8,66.8h1.4v1.4h-1.4zM453.8,66.8h25.4v1.4h-25.4zM396.8,67.8h24.4v1.4h-24.4zM422.8,67.8h1.4v1.4h-1.4zM426.8,67.8h1.4v1.4h-1.4zM449.8,67.8h3.4v1.4h-3.4zM453.8,67.8h26.4v1.4h-26.4zM395.8,68.8h23.4v1.4h-23.4zM419.8,68.8h2.4v1.4h-2.4zM424.8,68.8h1.4v1.4h-1.4zM426.8,68.8h1.4v1.4h-1.4zM438.8,68.8h1.4v1.4h-1.4zM443.8,68.8h1.4v1.4h-1.4zM447.8,68.8h1.4v1.4h-1.4zM452.8,68.8h1.4v1.4h-1.4zM455.8,68.8h25.4v1.4h-25.4zM482.8,68.8h1.4v1.4h-1.4zM394.8,69.8h21.4v1.4h-21.4zM419.8,69.8h1.4v1.4h-1.4zM422.8,69.8h1.4v1.4h-1.4zM424.8,69.8h1.4v1.4h-1.4zM430.8,69.8h1.4v1.4h-1.4zM432.8,69.8h2.4v1.4h-2.4zM443.8,69.8h1.4v1.4h-1.4zM458.8,69.8h23.4v1.4h-23.4zM490.8,69.8h1.4v1.4h-1.4zM392.8,70.8h24.4v1.4h-24.4zM420.8,70.8h1.4v1.4h-1.4zM423.8,70.8h1.4v1.4h-1.4zM449.8,70.8h1.4v1.4h-1.4zM451.8,70.8h1.4v1.4h-1.4zM456.8,70.8h1.4v1.4h-1.4zM458.8,70.8h24.4v1.4h-24.4zM386.8,71.8h1.4v1.4h-1.4zM392.8,71.8h23.4v1.4h-23.4zM438.8,71.8h1.4v1.4h-1.4zM451.8,71.8h1.4v1.4h-1.4zM458.8,71.8h1.4v1.4h-1.4zM461.8,71.8h23.4v1.4h-23.4zM390.8,72.8h19.4v1.4h-19.4zM410.8,72.8h1.4v1.4h-1.4zM414.8,72.8h1.4v1.4h-1.4zM423.8,72.8h1.4v1.4h-1.4zM431.8,72.8h1.4v1.4h-1.4zM454.8,72.8h1.4v1.4h-1.4zM459.8,72.8h1.4v1.4h-1.4zM462.8,72.8h22.4v1.4h-22.4zM390.8,73.8h17.4v1.4h-17.4zM410.8,73.8h1.4v1.4h-1.4zM412.8,73.8h1.4v1.4h-1.4zM418.8,73.8h1.4v1.4h-1.4zM458.8,73.8h4.4v1.4h-4.4zM464.8,73.8h21.4v1.4h-21.4zM487.8,73.8h1.4v1.4h-1.4zM389.8,74.8h17.4v1.4h-17.4zM407.8,74.8h1.4v1.4h-1.4zM410.8,74.8h1.4v1.4h-1.4zM416.8,74.8h1.4v1.4h-1.4zM418.8,74.8h1.4v1.4h-1.4zM458.8,74.8h1.4v1.4h-1.4zM462.8,74.8h1.4v1.4h-1.4zM464.8,74.8h22.4v1.4h-22.4zM385.8,75.8h1.4v1.4h-1.4zM389.8,75.8h16.4v1.4h-16.4zM406.8,75.8h3.4v1.4h-3.4zM410.8,75.8h1.4v1.4h-1.4zM413.8,75.8h1.4v1.4h-1.4zM449.8,75.8h1.4v1.4h-1.4zM453.8,75.8h1.4v1.4h-1.4zM456.8,75.8h1.4v1.4h-1.4zM458.8,75.8h1.4v1.4h-1.4zM462.8,75.8h1.4v1.4h-1.4zM464.8,75.8h24.4v1.4h-24.4zM386.8,76.8h1.4v1.4h-1.4zM388.8,76.8h17.4v1.4h-17.4zM406.8,76.8h2.4v1.4h-2.4zM409.8,76.8h1.4v1.4h-1.4zM413.8,76.8h1.4v1.4h-1.4zM459.8,76.8h1.4v1.4h-1.4zM462.8,76.8h1.4v1.4h-1.4zM468.8,76.8h21.4v1.4h-21.4zM387.8,77.8h16.4v1.4h-16.4zM405.8,77.8h1.4v1.4h-1.4zM468.8,77.8h22.4v1.4h-22.4zM491.8,77.8h2.4v1.4h-2.4zM385.8,78.8h18.4v1.4h-18.4zM404.8,78.8h1.4v1.4h-1.4zM443.8,78.8h1.4v1.4h-1.4zM462.8,78.8h3.4v1.4h-3.4zM466.8,78.8h1.4v1.4h-1.4zM468.8,78.8h1.4v1.4h-1.4zM470.8,78.8h22.4v1.4h-22.4zM385.8,79.8h17.4v1.4h-17.4zM467.8,79.8h1.4v1.4h-1.4zM471.8,79.8h22.4v1.4h-22.4zM494.8,79.8h1.4v1.4h-1.4zM384.8,80.8h17.4v1.4h-17.4zM403.8,80.8h1.4v1.4h-1.4zM463.8,80.8h1.4v1.4h-1.4zM468.8,80.8h1.4v1.4h-1.4zM471.8,80.8h22.4v1.4h-22.4zM496.8,80.8h1.4v1.4h-1.4zM380.8,81.8h1.4v1.4h-1.4zM382.8,81.8h1.4v1.4h-1.4zM384.8,81.8h18.4v1.4h-18.4zM403.8,81.8h1.4v1.4h-1.4zM469.8,81.8h1.4v1.4h-1.4zM471.8,81.8h1.4v1.4h-1.4zM474.8,81.8h20.4v1.4h-20.4zM495.8,81.8h2.4v1.4h-2.4zM383.8,82.8h17.4v1.4h-17.4zM401.8,82.8h2.4v1.4h-2.4zM468.8,82.8h2.4v1.4h-2.4zM471.8,82.8h2.4v1.4h-2.4zM475.8,82.8h20.4v1.4h-20.4zM380.8,83.8h20.4v1.4h-20.4zM426.8,83.8h1.4v1.4h-1.4zM462.8,83.8h1.4v1.4h-1.4zM475.8,83.8h22.4v1.4h-22.4zM380.8,84.8h18.4v1.4h-18.4zM474.8,84.8h1.4v1.4h-1.4zM476.8,84.8h21.4v1.4h-21.4zM379.8,85.8h20.4v1.4h-20.4zM400.8,85.8h1.4v1.4h-1.4zM407.8,85.8h1.4v1.4h-1.4zM474.8,85.8h3.4v1.4h-3.4zM478.8,85.8h19.4v1.4h-19.4zM375.8,86.8h1.4v1.4h-1.4zM379.8,86.8h20.4v1.4h-20.4zM402.8,86.8h1.4v1.4h-1.4zM470.8,86.8h1.4v1.4h-1.4zM477.8,86.8h21.4v1.4h-21.4zM378.8,87.8h21.4v1.4h-21.4zM448.8,87.8h1.4v1.4h-1.4zM468.8,87.8h1.4v1.4h-1.4zM479.8,87.8h21.4v1.4h-21.4zM376.8,88.8h20.4v1.4h-20.4zM397.8,88.8h1.4v1.4h-1.4zM400.8,88.8h1.4v1.4h-1.4zM472.8,88.8h1.4v1.4h-1.4zM475.8,88.8h1.4v1.4h-1.4zM477.8,88.8h22.4v1.4h-22.4zM376.8,89.8h19.4v1.4h-19.4zM396.8,89.8h3.4v1.4h-3.4zM470.8,89.8h1.4v1.4h-1.4zM472.8,89.8h1.4v1.4h-1.4zM481.8,89.8h18.4v1.4h-18.4zM375.8,90.8h20.4v1.4h-20.4zM396.8,90.8h1.4v1.4h-1.4zM473.8,90.8h1.4v1.4h-1.4zM475.8,90.8h1.4v1.4h-1.4zM480.8,90.8h19.4v1.4h-19.4zM375.8,91.8h18.4v1.4h-18.4zM397.8,91.8h1.4v1.4h-1.4zM399.8,91.8h1.4v1.4h-1.4zM426.8,91.8h1.4v1.4h-1.4zM478.8,91.8h1.4v1.4h-1.4zM481.8,91.8h20.4v1.4h-20.4zM374.8,92.8h19.4v1.4h-19.4zM396.8,92.8h1.4v1.4h-1.4zM483.8,92.8h17.4v1.4h-17.4zM501.8,92.8h1.4v1.4h-1.4zM371.8,93.8h1.4v1.4h-1.4zM373.8,93.8h22.4v1.4h-22.4zM472.8,93.8h1.4v1.4h-1.4zM479.8,93.8h1.4v1.4h-1.4zM482.8,93.8h19.4v1.4h-19.4zM373.8,94.8h20.4v1.4h-20.4zM483.8,94.8h18.4v1.4h-18.4zM372.8,95.8h18.4v1.4h-18.4zM393.8,95.8h2.4v1.4h-2.4zM481.8,95.8h1.4v1.4h-1.4zM483.8,95.8h18.4v1.4h-18.4zM369.8,96.8h1.4v1.4h-1.4zM371.8,96.8h20.4v1.4h-20.4zM484.8,96.8h17.4v1.4h-17.4zM369.8,97.8h1.4v1.4h-1.4zM371.8,97.8h19.4v1.4h-19.4zM391.8,97.8h1.4v1.4h-1.4zM397.8,97.8h1.4v1.4h-1.4zM401.8,97.8h1.4v1.4h-1.4zM473.8,97.8h1.4v1.4h-1.4zM485.8,97.8h16.4v1.4h-16.4zM371.8,98.8h16.4v1.4h-16.4zM388.8,98.8h2.4v1.4h-2.4zM479.8,98.8h1.4v1.4h-1.4zM483.8,98.8h1.4v1.4h-1.4zM485.8,98.8h18.4v1.4h-18.4zM504.8,98.8h1.4v1.4h-1.4zM370.8,99.8h15.4v1.4h-15.4zM386.8,99.8h1.4v1.4h-1.4zM389.8,99.8h1.4v1.4h-1.4zM393.8,99.8h1.4v1.4h-1.4zM482.8,99.8h1.4v1.4h-1.4zM485.8,99.8h16.4v1.4h-16.4zM370.8,100.8h17.4v1.4h-17.4zM415.8,100.8h1.4v1.4h-1.4zM477.8,100.8h1.4v1.4h-1.4zM484.8,100.8h17.4v1.4h-17.4zM369.8,101.8h18.4v1.4h-18.4zM388.8,101.8h1.4v1.4h-1.4zM485.8,101.8h17.4v1.4h-17.4zM369.8,102.8h16.4v1.4h-16.4zM486.8,102.8h16.4v1.4h-16.4zM503.8,102.8h1.4v1.4h-1.4zM505.8,102.8h1.4v1.4h-1.4zM364.8,103.8h1.4v1.4h-1.4zM369.8,103.8h14.4v1.4h-14.4zM385.8,103.8h2.4v1.4h-2.4zM393.8,103.8h1.4v1.4h-1.4zM484.8,103.8h18.4v1.4h-18.4zM367.8,104.8h1.4v1.4h-1.4zM369.8,104.8h14.4v1.4h-14.4zM384.8,104.8h2.4v1.4h-2.4zM387.8,104.8h1.4v1.4h-1.4zM409.8,104.8h1.4v1.4h-1.4zM486.8,104.8h17.4v1.4h-17.4zM366.8,105.8h1.4v1.4h-1.4zM368.8,105.8h14.4v1.4h-14.4zM383.8,105.8h2.4v1.4h-2.4zM386.8,105.8h1.4v1.4h-1.4zM392.8,105.8h1.4v1.4h-1.4zM481.8,105.8h1.4v1.4h-1.4zM486.8,105.8h16.4v1.4h-16.4zM368.8,106.8h14.4v1.4h-14.4zM477.8,106.8h1.4v1.4h-1.4zM487.8,106.8h16.4v1.4h-16.4zM367.8,107.8h1.4v1.4h-1.4zM369.8,107.8h13.4v1.4h-13.4zM384.8,107.8h1.4v1.4h-1.4zM397.8,107.8h1.4v1.4h-1.4zM482.8,107.8h1.4v1.4h-1.4zM487.8,107.8h15.4v1.4h-15.4zM369.8,108.8h15.4v1.4h-15.4zM387.8,108.8h1.4v1.4h-1.4zM488.8,108.8h15.4v1.4h-15.4zM367.8,109.8h15.4v1.4h-15.4zM384.8,109.8h3.4v1.4h-3.4zM396.8,109.8h1.4v1.4h-1.4zM482.8,109.8h1.4v1.4h-1.4zM485.8,109.8h1.4v1.4h-1.4zM487.8,109.8h16.4v1.4h-16.4zM504.8,109.8h1.4v1.4h-1.4zM368.8,110.8h14.4v1.4h-14.4zM385.8,110.8h1.4v1.4h-1.4zM488.8,110.8h15.4v1.4h-15.4zM368.8,111.8h13.4v1.4h-13.4zM382.8,111.8h1.4v1.4h-1.4zM488.8,111.8h15.4v1.4h-15.4zM368.8,112.8h13.4v1.4h-13.4zM382.8,112.8h1.4v1.4h-1.4zM481.8,112.8h1.4v1.4h-1.4zM484.8,112.8h1.4v1.4h-1.4zM486.8,112.8h1.4v1.4h-1.4zM489.8,112.8h15.4v1.4h-15.4zM368.8,113.8h14.4v1.4h-14.4zM387.8,113.8h1.4v1.4h-1.4zM488.8,113.8h16.4v1.4h-16.4zM505.8,113.8h1.4v1.4h-1.4zM367.8,114.8h16.4v1.4h-16.4zM488.8,114.8h15.4v1.4h-15.4zM368.8,115.8h13.4v1.4h-13.4zM382.8,115.8h1.4v1.4h-1.4zM488.8,115.8h15.4v1.4h-15.4zM367.8,116.8h13.4v1.4h-13.4zM381.8,116.8h2.4v1.4h-2.4zM386.8,116.8h1.4v1.4h-1.4zM481.8,116.8h2.4v1.4h-2.4zM489.8,116.8h14.4v1.4h-14.4zM368.8,117.8h13.4v1.4h-13.4zM390.8,117.8h1.4v1.4h-1.4zM489.8,117.8h14.4v1.4h-14.4zM368.8,118.8h15.4v1.4h-15.4zM489.8,118.8h14.4v1.4h-14.4zM368.8,119.8h14.4v1.4h-14.4zM385.8,119.8h1.4v1.4h-1.4zM481.8,119.8h1.4v1.4h-1.4zM489.8,119.8h14.4v1.4h-14.4zM368.8,120.8h14.4v1.4h-14.4zM489.8,120.8h14.4v1.4h-14.4zM367.8,121.8h13.4v1.4h-13.4zM382.8,121.8h2.4v1.4h-2.4zM387.8,121.8h1.4v1.4h-1.4zM489.8,121.8h15.4v1.4h-15.4zM368.8,122.8h13.4v1.4h-13.4zM384.8,122.8h1.4v1.4h-1.4zM390.8,122.8h1.4v1.4h-1.4zM485.8,122.8h1.4v1.4h-1.4zM489.8,122.8h14.4v1.4h-14.4zM366.8,123.8h15.4v1.4h-15.4zM403.8,123.8h1.4v1.4h-1.4zM484.8,123.8h1.4v1.4h-1.4zM489.8,123.8h15.4v1.4h-15.4zM368.8,124.8h12.4v1.4h-12.4zM382.8,124.8h1.4v1.4h-1.4zM490.8,124.8h13.4v1.4h-13.4zM368.8,125.8h14.4v1.4h-14.4zM383.8,125.8h1.4v1.4h-1.4zM386.8,125.8h1.4v1.4h-1.4zM487.8,125.8h16.4v1.4h-16.4zM367.8,126.8h14.4v1.4h-14.4zM382.8,126.8h1.4v1.4h-1.4zM490.8,126.8h13.4v1.4h-13.4zM368.8,127.8h13.4v1.4h-13.4zM382.8,127.8h1.4v1.4h-1.4zM490.8,127.8h13.4v1.4h-13.4zM368.8,128.8h14.4v1.4h-14.4zM383.8,128.8h2.4v1.4h-2.4zM386.8,128.8h1.4v1.4h-1.4zM490.8,128.8h12.4v1.4h-12.4zM367.8,129.8h14.4v1.4h-14.4zM383.8,129.8h1.4v1.4h-1.4zM387.8,129.8h1.4v1.4h-1.4zM488.8,129.8h15.4v1.4h-15.4zM368.8,130.8h16.4v1.4h-16.4zM386.8,130.8h2.4v1.4h-2.4zM486.8,130.8h1.4v1.4h-1.4zM488.8,130.8h1.4v1.4h-1.4zM490.8,130.8h12.4v1.4h-12.4zM368.8,131.8h16.4v1.4h-16.4zM385.8,131.8h1.4v1.4h-1.4zM489.8,131.8h13.4v1.4h-13.4zM367.8,132.8h18.4v1.4h-18.4zM488.8,132.8h1.4v1.4h-1.4zM490.8,132.8h11.4v1.4h-11.4zM368.8,133.8h17.4v1.4h-17.4zM388.8,133.8h1.4v1.4h-1.4zM486.8,133.8h1.4v1.4h-1.4zM488.8,133.8h14.4v1.4h-14.4zM367.8,134.8h18.4v1.4h-18.4zM386.8,134.8h2.4v1.4h-2.4zM389.8,134.8h1.4v1.4h-1.4zM393.8,134.8h1.4v1.4h-1.4zM486.8,134.8h1.4v1.4h-1.4zM489.8,134.8h12.4v1.4h-12.4zM367.8,135.8h20.4v1.4h-20.4zM388.8,135.8h1.4v1.4h-1.4zM395.8,135.8h1.4v1.4h-1.4zM486.8,135.8h1.4v1.4h-1.4zM488.8,135.8h12.4v1.4h-12.4zM368.8,136.8h17.4v1.4h-17.4zM387.8,136.8h1.4v1.4h-1.4zM391.8,136.8h1.4v1.4h-1.4zM488.8,136.8h12.4v1.4h-12.4zM368.8,137.8h19.4v1.4h-19.4zM488.8,137.8h13.4v1.4h-13.4zM368.8,138.8h20.4v1.4h-20.4zM392.8,138.8h1.4v1.4h-1.4zM395.8,138.8h1.4v1.4h-1.4zM486.8,138.8h13.4v1.4h-13.4zM365.8,139.8h1.4v1.4h-1.4zM368.8,139.8h20.4v1.4h-20.4zM480.8,139.8h1.4v1.4h-1.4zM483.8,139.8h2.4v1.4h-2.4zM486.8,139.8h12.4v1.4h-12.4zM366.8,140.8h21.4v1.4h-21.4zM388.8,140.8h1.4v1.4h-1.4zM395.8,140.8h1.4v1.4h-1.4zM485.8,140.8h13.4v1.4h-13.4zM367.8,141.8h20.4v1.4h-20.4zM388.8,141.8h2.4v1.4h-2.4zM396.8,141.8h1.4v1.4h-1.4zM399.8,141.8h1.4v1.4h-1.4zM485.8,141.8h13.4v1.4h-13.4zM368.8,142.8h21.4v1.4h-21.4zM484.8,142.8h13.4v1.4h-13.4zM368.8,143.8h22.4v1.4h-22.4zM400.8,143.8h1.4v1.4h-1.4zM481.8,143.8h1.4v1.4h-1.4zM483.8,143.8h13.4v1.4h-13.4zM497.8,143.8h1.4v1.4h-1.4zM367.8,144.8h23.4v1.4h-23.4zM396.8,144.8h1.4v1.4h-1.4zM480.8,144.8h1.4v1.4h-1.4zM482.8,144.8h13.4v1.4h-13.4zM367.8,145.8h25.4v1.4h-25.4zM393.8,145.8h1.4v1.4h-1.4zM478.8,145.8h1.4v1.4h-1.4zM482.8,145.8h13.4v1.4h-13.4zM367.8,146.8h26.4v1.4h-26.4zM395.8,146.8h1.4v1.4h-1.4zM481.8,146.8h13.4v1.4h-13.4zM368.8,147.8h24.4v1.4h-24.4zM393.8,147.8h1.4v1.4h-1.4zM395.8,147.8h1.4v1.4h-1.4zM457.8,147.8h1.4v1.4h-1.4zM475.8,147.8h1.4v1.4h-1.4zM477.8,147.8h1.4v1.4h-1.4zM480.8,147.8h13.4v1.4h-13.4zM368.8,148.8h26.4v1.4h-26.4zM395.8,148.8h2.4v1.4h-2.4zM465.8,148.8h1.4v1.4h-1.4zM479.8,148.8h13.4v1.4h-13.4zM370.8,149.8h24.4v1.4h-24.4zM478.8,149.8h13.4v1.4h-13.4zM370.8,150.8h24.4v1.4h-24.4zM469.8,150.8h1.4v1.4h-1.4zM473.8,150.8h1.4v1.4h-1.4zM475.8,150.8h1.4v1.4h-1.4zM477.8,150.8h13.4v1.4h-13.4zM371.8,151.8h27.4v1.4h-27.4zM459.8,151.8h1.4v1.4h-1.4zM473.8,151.8h1.4v1.4h-1.4zM477.8,151.8h13.4v1.4h-13.4zM491.8,151.8h1.4v1.4h-1.4zM372.8,152.8h29.4v1.4h-29.4zM402.8,152.8h1.4v1.4h-1.4zM410.8,152.8h1.4v1.4h-1.4zM473.8,152.8h1.4v1.4h-1.4zM476.8,152.8h12.4v1.4h-12.4zM372.8,153.8h27.4v1.4h-27.4zM458.8,153.8h1.4v1.4h-1.4zM470.8,153.8h1.4v1.4h-1.4zM475.8,153.8h12.4v1.4h-12.4zM489.8,153.8h1.4v1.4h-1.4zM373.8,154.8h25.4v1.4h-25.4zM399.8,154.8h1.4v1.4h-1.4zM463.8,154.8h1.4v1.4h-1.4zM467.8,154.8h1.4v1.4h-1.4zM475.8,154.8h11.4v1.4h-11.4zM487.8,154.8h1.4v1.4h-1.4zM375.8,155.8h25.4v1.4h-25.4zM401.8,155.8h2.4v1.4h-2.4zM415.8,155.8h1.4v1.4h-1.4zM470.8,155.8h1.4v1.4h-1.4zM474.8,155.8h13.4v1.4h-13.4zM376.8,156.8h25.4v1.4h-25.4zM404.8,156.8h1.4v1.4h-1.4zM411.8,156.8h1.4v1.4h-1.4zM469.8,156.8h1.4v1.4h-1.4zM473.8,156.8h11.4v1.4h-11.4zM376.8,157.8h1.4v1.4h-1.4zM378.8,157.8h25.4v1.4h-25.4zM412.8,157.8h2.4v1.4h-2.4zM462.8,157.8h1.4v1.4h-1.4zM473.8,157.8h10.4v1.4h-10.4zM484.8,157.8h1.4v1.4h-1.4zM487.8,157.8h1.4v1.4h-1.4zM380.8,158.8h23.4v1.4h-23.4zM404.8,158.8h1.4v1.4h-1.4zM470.8,158.8h1.4v1.4h-1.4zM472.8,158.8h10.4v1.4h-10.4zM381.8,159.8h23.4v1.4h-23.4zM405.8,159.8h1.4v1.4h-1.4zM411.8,159.8h1.4v1.4h-1.4zM471.8,159.8h11.4v1.4h-11.4zM383.8,160.8h23.4v1.4h-23.4zM407.8,160.8h2.4v1.4h-2.4zM410.8,160.8h1.4v1.4h-1.4zM461.8,160.8h1.4v1.4h-1.4zM468.8,160.8h1.4v1.4h-1.4zM470.8,160.8h10.4v1.4h-10.4zM381.8,161.8h1.4v1.4h-1.4zM384.8,161.8h24.4v1.4h-24.4zM409.8,161.8h1.4v1.4h-1.4zM412.8,161.8h1.4v1.4h-1.4zM459.8,161.8h1.4v1.4h-1.4zM469.8,161.8h10.4v1.4h-10.4zM384.8,162.8h1.4v1.4h-1.4zM386.8,162.8h23.4v1.4h-23.4zM410.8,162.8h1.4v1.4h-1.4zM464.8,162.8h2.4v1.4h-2.4zM467.8,162.8h11.4v1.4h-11.4zM380.8,163.8h1.4v1.4h-1.4zM386.8,163.8h24.4v1.4h-24.4zM437.8,163.8h1.4v1.4h-1.4zM452.8,163.8h1.4v1.4h-1.4zM454.8,163.8h1.4v1.4h-1.4zM461.8,163.8h1.4v1.4h-1.4zM467.8,163.8h10.4v1.4h-10.4zM386.8,164.8h25.4v1.4h-25.4zM412.8,164.8h1.4v1.4h-1.4zM416.8,164.8h1.4v1.4h-1.4zM446.8,164.8h1.4v1.4h-1.4zM463.8,164.8h1.4v1.4h-1.4zM465.8,164.8h12.4v1.4h-12.4zM384.8,165.8h1.4v1.4h-1.4zM390.8,165.8h23.4v1.4h-23.4zM414.8,165.8h1.4v1.4h-1.4zM417.8,165.8h2.4v1.4h-2.4zM432.8,165.8h1.4v1.4h-1.4zM437.8,165.8h1.4v1.4h-1.4zM447.8,165.8h1.4v1.4h-1.4zM456.8,165.8h1.4v1.4h-1.4zM458.8,165.8h1.4v1.4h-1.4zM461.8,165.8h1.4v1.4h-1.4zM463.8,165.8h12.4v1.4h-12.4zM478.8,165.8h1.4v1.4h-1.4zM391.8,166.8h22.4v1.4h-22.4zM420.8,166.8h1.4v1.4h-1.4zM449.8,166.8h1.4v1.4h-1.4zM451.8,166.8h1.4v1.4h-1.4zM460.8,166.8h14.4v1.4h-14.4zM391.8,167.8h1.4v1.4h-1.4zM393.8,167.8h24.4v1.4h-24.4zM441.8,167.8h1.4v1.4h-1.4zM443.8,167.8h1.4v1.4h-1.4zM445.8,167.8h1.4v1.4h-1.4zM459.8,167.8h15.4v1.4h-15.4zM392.8,168.8h23.4v1.4h-23.4zM417.8,168.8h1.4v1.4h-1.4zM420.8,168.8h2.4v1.4h-2.4zM433.8,168.8h1.4v1.4h-1.4zM442.8,168.8h1.4v1.4h-1.4zM452.8,168.8h1.4v1.4h-1.4zM456.8,168.8h16.4v1.4h-16.4zM473.8,168.8h1.4v1.4h-1.4zM395.8,169.8h24.4v1.4h-24.4zM424.8,169.8h1.4v1.4h-1.4zM426.8,169.8h1.4v1.4h-1.4zM434.8,169.8h1.4v1.4h-1.4zM437.8,169.8h1.4v1.4h-1.4zM440.8,169.8h1.4v1.4h-1.4zM442.8,169.8h1.4v1.4h-1.4zM447.8,169.8h1.4v1.4h-1.4zM450.8,169.8h21.4v1.4h-21.4zM396.8,170.8h23.4v1.4h-23.4zM430.8,170.8h1.4v1.4h-1.4zM432.8,170.8h2.4v1.4h-2.4zM436.8,170.8h2.4v1.4h-2.4zM447.8,170.8h24.4v1.4h-24.4zM472.8,170.8h1.4v1.4h-1.4zM396.8,171.8h24.4v1.4h-24.4zM422.8,171.8h2.4v1.4h-2.4zM427.8,171.8h1.4v1.4h-1.4zM434.8,171.8h1.4v1.4h-1.4zM436.8,171.8h1.4v1.4h-1.4zM440.8,171.8h1.4v1.4h-1.4zM442.8,171.8h2.4v1.4h-2.4zM445.8,171.8h24.4v1.4h-24.4zM396.8,172.8h27.4v1.4h-27.4zM425.8,172.8h1.4v1.4h-1.4zM427.8,172.8h40.4v1.4h-40.4zM397.8,173.8h1.4v1.4h-1.4zM399.8,173.8h67.4v1.4h-67.4zM399.8,174.8h65.4v1.4h-65.4zM465.8,174.8h1.4v1.4h-1.4zM401.8,175.8h61.4v1.4h-61.4zM464.8,175.8h1.4v1.4h-1.4zM466.8,175.8h1.4v1.4h-1.4zM402.8,176.8h59.4v1.4h-59.4zM403.8,177.8h56.4v1.4h-56.4zM460.8,177.8h1.4v1.4h-1.4zM462.8,177.8h1.4v1.4h-1.4zM401.8,178.8h1.4v1.4h-1.4zM403.8,178.8h1.4v1.4h-1.4zM405.8,178.8h50.4v1.4h-50.4zM456.8,178.8h2.4v1.4h-2.4zM406.8,179.8h47.4v1.4h-47.4zM454.8,179.8h1.4v1.4h-1.4zM402.8,180.8h1.4v1.4h-1.4zM405.8,180.8h1.4v1.4h-1.4zM407.8,180.8h43.4v1.4h-43.4zM452.8,180.8h1.4v1.4h-1.4zM409.8,181.8h36.4v1.4h-36.4zM447.8,181.8h1.4v1.4h-1.4zM450.8,181.8h1.4v1.4h-1.4zM411.8,182.8h29.4v1.4h-29.4zM441.8,182.8h1.4v1.4h-1.4zM413.8,183.8h22.4v1.4h-22.4zM436.8,183.8h1.4v1.4h-1.4zM445.8,183.8h1.4v1.4h-1.4zM406.8,184.8h1.4v1.4h-1.4zM410.8,184.8h1.4v1.4h-1.4zM412.8,184.8h1.4v1.4h-1.4zM417.8,184.8h12.4v1.4h-12.4zM430.8,184.8h1.4v1.4h-1.4zM438.8,184.8h1.4v1.4h-1.4zM416.8,185.8h1.4v1.4h-1.4zM419.8,185.8h1.4v1.4h-1.4zM422.8,185.8h1.4v1.4h-1.4zM424.8,185.8h1.4v1.4h-1.4zM426.8,186.8h1.4v1.4h-1.4zM438.8,190.8h1.4v1.4h-1.4z"/>
<path fill="#0000ff" d="M424.8,69.8h1.4v1.4h-1.4zM423.8,73.8h1.4v1.4h-1.4zM428.8,73.8h1.4v1.4h-1.4zM423.8,74.8h1.4v1.4h-1.4zM427.8,74.8h1.4v1.4h-1.4zM429.8,74.8h1.4v1.4h-1.4zM418.8,75.8h1.4v1.4h-1.4zM421.8,75.8h6.4v1.4h-6.4zM428.8,75.8h1.4v1.4h-1.4zM430.8,75.8h1.4v1.4h-1.4zM444.8,75.8h1.4v1.4h-1.4zM418.8,76.8h15.4v1.4h-15.4zM436.8,76.8h1.4v1.4h-1.4zM441.8,76.8h1.4v1.4h-1.4zM443.8,76.8h1.4v1.4h-1.4zM414.8,77.8h1.4v1.4h-1.4zM418.8,77.8h18.4v1.4h-18.4zM437.8,77.8h2.4v1.4h-2.4zM453.8,77.8h1.4v1.4h-1.4zM415.8,78.8h2.4v1.4h-2.4zM419.8,78.8h7.4v1.4h-7.4zM427.8,78.8h4.4v1.4h-4.4zM432.8,78.8h1.4v1.4h-1.4zM434.8,78.8h6.4v1.4h-6.4zM441.8,78.8h1.4v1.4h-1.4zM415.8,79.8h24.4v1.4h-24.4zM440.8,79.8h5.4v1.4h-5.4zM446.8,79.8h1.4v1.4h-1.4zM412.8,80.8h1.4v1.4h-1.4zM414.8,80.8h7.4v1.4h-7.4zM422.8,80.8h27.4v1.4h-27.4zM411.8,81.8h1.4v1.4h-1.4zM413.8,81.8h19.4v1.4h-19.4zM433.8,81.8h18.4v1.4h-18.4zM411.8,82.8h27.4v1.4h-27.4zM439.8,82.8h6.4v1.4h-6.4zM446.8,82.8h5.4v1.4h-5.4zM453.8,82.8h1.4v1.4h-1.4zM411.8,83.8h42.4v1.4h-42.4zM461.8,83.8h1.4v1.4h-1.4zM407.8,84.8h1.4v1.4h-1.4zM411.8,84.8h26.4v1.4h-26.4zM438.8,84.8h17.4v1.4h-17.4zM407.8,85.8h1.4v1.4h-1.4zM409.8,85.8h22.4v1.4h-22.4zM432.8,85.8h15.4v1.4h-15.4zM448.8,85.8h2.4v1.4h-2.4zM452.8,85.8h4.4v1.4h-4.4zM462.8,85.8h1.4v1.4h-1.4zM406.8,86.8h29.4v1.4h-29.4zM436.8,86.8h6.4v1.4h-6.4zM443.8,86.8h11.4v1.4h-11.4zM455.8,86.8h2.4v1.4h-2.4zM458.8,86.8h1.4v1.4h-1.4zM406.8,87.8h22.4v1.4h-22.4zM429.8,87.8h3.4v1.4h-3.4zM433.8,87.8h9.4v1.4h-9.4zM443.8,87.8h15.4v1.4h-15.4zM459.8,87.8h1.4v1.4h-1.4zM402.8,88.8h3.4v1.4h-3.4zM406.8,88.8h19.4v1.4h-19.4zM426.8,88.8h1.4v1.4h-1.4zM431.8,88.8h1.4v1.4h-1.4zM434.8,88.8h1.4v1.4h-1.4zM443.8,88.8h7.4v1.4h-7.4zM451.8,88.8h8.4v1.4h-8.4zM460.8,88.8h1.4v1.4h-1.4zM405.8,89.8h2.4v1.4h-2.4zM409.8,89.8h13.4v1.4h-13.4zM424.8,89.8h1.4v1.4h-1.4zM427.8,89.8h1.4v1.4h-1.4zM430.8,89.8h2.4v1.4h-2.4zM435.8,89.8h1.4v1.4h-1.4zM443.8,89.8h1.4v1.4h-1.4zM445.8,89.8h1.4v1.4h-1.4zM447.8,89.8h6.4v1.4h-6.4zM454.8,89.8h7.4v1.4h-7.4zM404.8,90.8h15.4v1.4h-15.4zM421.8,90.8h3.4v1.4h-3.4zM450.8,90.8h3.4v1.4h-3.4zM454.8,90.8h5.4v1.4h-5.4zM460.8,90.8h2.4v1.4h-2.4zM463.8,90.8h1.4v1.4h-1.4zM398.8,91.8h1.4v1.4h-1.4zM403.8,91.8h1.4v1.4h-1.4zM406.8,91.8h10.4v1.4h-10.4zM420.8,91.8h4.4v1.4h-4.4zM425.8,91.8h1.4v1.4h-1.4zM431.8,91.8h1.4v1.4h-1.4zM438.8,91.8h1.4v1.4h-1.4zM444.8,91.8h1.4v1.4h-1.4zM447.8,91.8h1.4v1.4h-1.4zM449.8,91.8h1.4v1.4h-1.4zM451.8,91.8h8.4v1.4h-8.4zM460.8,91.8h3.4v1.4h-3.4zM401.8,92.8h6.4v1.4h-6.4zM408.8,92.8h9.4v1.4h-9.4zM419.8,92.8h1.4v1.4h-1.4zM432.8,92.8h1.4v1.4h-1.4zM441.8,92.8h1.4v1.4h-1.4zM447.8,92.8h1.4v1.4h-1.4zM449.8,92.8h10.4v1.4h-10.4zM461.8,92.8h5.4v1.4h-5.4zM401.8,93.8h14.4v1.4h-14.4zM416.8,93.8h1.4v1.4h-1.4zM435.8,93.8h1.4v1.4h-1.4zM453.8,93.8h3.4v1.4h-3.4zM457.8,93.8h3.4v1.4h-3.4zM461.8,93.8h5.4v1.4h-5.4zM400.8,94.8h2.4v1.4h-2.4zM403.8,94.8h10.4v1.4h-10.4zM417.8,94.8h1.4v1.4h-1.4zM422.8,94.8h1.4v1.4h-1.4zM443.8,94.8h1.4v1.4h-1.4zM453.8,94.8h12.4v1.4h-12.4zM397.8,95.8h1.4v1.4h-1.4zM399.8,95.8h14.4v1.4h-14.4zM415.8,95.8h1.4v1.4h-1.4zM419.8,95.8h1.4v1.4h-1.4zM448.8,95.8h2.4v1.4h-2.4zM455.8,95.8h12.4v1.4h-12.4zM471.8,95.8h1.4v1.4h-1.4zM400.8,96.8h12.4v1.4h-12.4zM415.8,96.8h1.4v1.4h-1.4zM455.8,96.8h13.4v1.4h-13.4zM399.8,97.8h16.4v1.4h-16.4zM433.8,97.8h1.4v1.4h-1.4zM441.8,97.8h1.4v1.4h-1.4zM443.8,97.8h1.4v1.4h-1.4zM457.8,97.8h10.4v1.4h-10.4zM468.8,97.8h1.4v1.4h-1.4zM399.8,98.8h12.4v1.4h-12.4zM454.8,98.8h1.4v1.4h-1.4zM457.8,98.8h10.4v1.4h-10.4zM399.8,99.8h2.4v1.4h-2.4zM402.8,99.8h9.4v1.4h-9.4zM426.8,99.8h1.4v1.4h-1.4zM452.8,99.8h1.4v1.4h-1.4zM455.8,99.8h9.4v1.4h-9.4zM465.8,99.8h4.4v1.4h-4.4zM400.8,100.8h4.4v1.4h-4.4zM405.8,100.8h5.4v1.4h-5.4zM413.8,100.8h1.4v1.4h-1.4zM426.8,100.8h1.4v1.4h-1.4zM448.8,100.8h1.4v1.4h-1.4zM457.8,100.8h1.4v1.4h-1.4zM459.8,100.8h9.4v1.4h-9.4zM469.8,100.8h1.4v1.4h-1.4zM398.8,101.8h11.4v1.4h-11.4zM411.8,101.8h1.4v1.4h-1.4zM414.8,101.8h1.4v1.4h-1.4zM450.8,101.8h1.4v1.4h-1.4zM458.8,101.8h12.4v1.4h-12.4zM398.8,102.8h2.4v1.4h-2.4zM401.8,102.8h6.4v1.4h-6.4zM408.8,102.8h1.4v1.4h-1.4zM410.8,102.8h1.4v1.4h-1.4zM459.8,102.8h11.4v1.4h-11.4zM398.8,103.8h11.4v1.4h-11.4zM410.8,103.8h3.4v1.4h-3.4zM443.8,103.8h1.4v1.4h-1.4zM454.8,103.8h1.4v1.4h-1.4zM456.8,103.8h1.4v1.4h-1.4zM460.8,103.8h4.4v1.4h-4.4zM465.8,103.8h4.4v1.4h-4.4zM470.8,103.8h1.4v1.4h-1.4zM396.8,104.8h2.4v1.4h-2.4zM399.8,104.8h6.4v1.4h-6.4zM406.8,104.8h2.4v1.4h-2.4zM460.8,104.8h10.4v1.4h-10.4zM472.8,104.8h1.4v1.4h-1.4zM398.8,105.8h10.4v1.4h-10.4zM409.8,105.8h1.4v1.4h-1.4zM411.8,105.8h3.4v1.4h-3.4zM460.8,105.8h12.4v1.4h-12.4zM398.8,106.8h9.4v1.4h-9.4zM427.8,106.8h1.4v1.4h-1.4zM461.8,106.8h9.4v1.4h-9.4zM398.8,107.8h10.4v1.4h-10.4zM410.8,107.8h1.4v1.4h-1.4zM456.8,107.8h1.4v1.4h-1.4zM461.8,107.8h1.4v1.4h-1.4zM465.8,107.8h6.4v1.4h-6.4zM395.8,108.8h2.4v1.4h-2.4zM398.8,108.8h1.4v1.4h-1.4zM400.8,108.8h9.4v1.4h-9.4zM410.8,108.8h2.4v1.4h-2.4zM462.8,108.8h8.4v1.4h-8.4zM398.8,109.8h12.4v1.4h-12.4zM416.8,109.8h1.4v1.4h-1.4zM419.8,109.8h1.4v1.4h-1.4zM462.8,109.8h2.4v1.4h-2.4zM465.8,109.8h5.4v1.4h-5.4zM471.8,109.8h1.4v1.4h-1.4zM397.8,110.8h12.4v1.4h-12.4zM410.8,110.8h1.4v1.4h-1.4zM462.8,110.8h9.4v1.4h-9.4zM398.8,111.8h5.4v1.4h-5.4zM404.8,111.8h4.4v1.4h-4.4zM409.8,111.8h1.4v1.4h-1.4zM460.8,111.8h1.4v1.4h-1.4zM463.8,111.8h10.4v1.4h-10.4zM398.8,112.8h11.4v1.4h-11.4zM460.8,112.8h1.4v1.4h-1.4zM462.8,112.8h9.4v1.4h-9.4zM397.8,113.8h5.4v1.4h-5.4zM403.8,113.8h7.4v1.4h-7.4zM463.8,113.8h8.4v1.4h-8.4zM472.8,113.8h1.4v1.4h-1.4zM398.8,114.8h6.4v1.4h-6.4zM405.8,114.8h3.4v1.4h-3.4zM416.8,114.8h1.4v1.4h-1.4zM463.8,114.8h1.4v1.4h-1.4zM465.8,114.8h6.4v1.4h-6.4zM398.8,115.8h9.4v1.4h-9.4zM408.8,115.8h1.4v1.4h-1.4zM413.8,115.8h1.4v1.4h-1.4zM461.8,115.8h1.4v1.4h-1.4zM463.8,115.8h8.4v1.4h-8.4zM473.8,115.8h1.4v1.4h-1.4zM397.8,116.8h11.4v1.4h-11.4zM411.8,116.8h1.4v1.4h-1.4zM421.8,116.8h1.4v1.4h-1.4zM458.8,116.8h2.4v1.4h-2.4zM463.8,116.8h1.4v1.4h-1.4zM465.8,116.8h3.4v1.4h-3.4zM469.8,116.8h2.4v1.4h-2.4zM398.8,117.8h10.4v1.4h-10.4zM463.8,117.8h3.4v1.4h-3.4zM467.8,117.8h4.4v1.4h-4.4zM398.8,118.8h11.4v1.4h-11.4zM453.8,118.8h1.4v1.4h-1.4zM461.8,118.8h1.4v1.4h-1.4zM463.8,118.8h8.4v1.4h-8.4zM398.8,119.8h11.4v1.4h-11.4zM412.8,119.8h1.4v1.4h-1.4zM416.8,119.8h1.4v1.4h-1.4zM456.8,119.8h1.4v1.4h-1.4zM463.8,119.8h8.4v1.4h-8.4zM398.8,120.8h4.4v1.4h-4.4zM403.8,120.8h5.4v1.4h-5.4zM450.8,120.8h1.4v1.4h-1.4zM454.8,120.8h1.4v1.4h-1.4zM463.8,120.8h6.4v1.4h-6.4zM470.8,120.8h1.4v1.4h-1.4zM472.8,120.8h1.4v1.4h-1.4zM394.8,121.8h1.4v1.4h-1.4zM398.8,121.8h3.4v1.4h-3.4zM403.8,121.8h6.4v1.4h-6.4zM459.8,121.8h1.4v1.4h-1.4zM464.8,121.8h5.4v1.4h-5.4zM470.8,121.8h1.4v1.4h-1.4zM398.8,122.8h11.4v1.4h-11.4zM462.8,122.8h9.4v1.4h-9.4zM395.8,123.8h1.4v1.4h-1.4zM398.8,123.8h11.4v1.4h-11.4zM412.8,123.8h1.4v1.4h-1.4zM464.8,123.8h7.4v1.4h-7.4zM474.8,123.8h1.4v1.4h-1.4zM398.8,124.8h10.4v1.4h-10.4zM462.8,124.8h5.4v1.4h-5.4zM468.8,124.8h3.4v1.4h-3.4zM398.8,125.8h5.4v1.4h-5.4zM404.8,125.8h4.4v1.4h-4.4zM410.8,125.8h1.4v1.4h-1.4zM414.8,125.8h1.4v1.4h-1.4zM462.8,125.8h10.4v1.4h-10.4zM398.8,126.8h10.4v1.4h-10.4zM410.8,126.8h1.4v1.4h-1.4zM461.8,126.8h7.4v1.4h-7.4zM469.8,126.8h2.4v1.4h-2.4zM473.8,126.8h1.4v1.4h-1.4zM397.8,127.8h11.4v1.4h-11.4zM462.8,127.8h2.4v1.4h-2.4zM465.8,127.8h7.4v1.4h-7.4zM398.8,128.8h3.4v1.4h-3.4zM402.8,128.8h6.4v1.4h-6.4zM462.8,128.8h1.4v1.4h-1.4zM464.8,128.8h8.4v1.4h-8.4zM397.8,129.8h3.4v1.4h-3.4zM401.8,129.8h8.4v1.4h-8.4zM462.8,129.8h6.4v1.4h-6.4zM469.8,129.8h2.4v1.4h-2.4zM398.8,130.8h2.4v1.4h-2.4zM401.8,130.8h3.4v1.4h-3.4zM405.8,130.8h4.4v1.4h-4.4zM445.8,130.8h1.4v1.4h-1.4zM461.8,130.8h10.4v1.4h-10.4zM398.8,131.8h11.4v1.4h-11.4zM412.8,131.8h1.4v1.4h-1.4zM461.8,131.8h8.4v1.4h-8.4zM470.8,131.8h1.4v1.4h-1.4zM397.8,132.8h2.4v1.4h-2.4zM400.8,132.8h9.4v1.4h-9.4zM412.8,132.8h1.4v1.4h-1.4zM450.8,132.8h1.4v1.4h-1.4zM461.8,132.8h3.4v1.4h-3.4zM465.8,132.8h6.4v1.4h-6.4zM397.8,133.8h13.4v1.4h-13.4zM459.8,133.8h2.4v1.4h-2.4zM462.8,133.8h9.4v1.4h-9.4zM392.8,134.8h1.4v1.4h-1.4zM394.8,134.8h1.4v1.4h-1.4zM396.8,134.8h1.4v1.4h-1.4zM398.8,134.8h15.4v1.4h-15.4zM415.8,134.8h2.4v1.4h-2.4zM460.8,134.8h11.4v1.4h-11.4zM473.8,134.8h1.4v1.4h-1.4zM396.8,135.8h6.4v1.4h-6.4zM403.8,135.8h8.4v1.4h-8.4zM460.8,135.8h11.4v1.4h-11.4zM397.8,136.8h5.4v1.4h-5.4zM403.8,136.8h4.4v1.4h-4.4zM408.8,136.8h4.4v1.4h-4.4zM461.8,136.8h2.4v1.4h-2.4zM464.8,136.8h6.4v1.4h-6.4zM395.8,137.8h1.4v1.4h-1.4zM397.8,137.8h1.4v1.4h-1.4zM399.8,137.8h2.4v1.4h-2.4zM402.8,137.8h7.4v1.4h-7.4zM410.8,137.8h1.4v1.4h-1.4zM412.8,137.8h1.4v1.4h-1.4zM459.8,137.8h10.4v1.4h-10.4zM395.8,138.8h20.4v1.4h-20.4zM458.8,138.8h6.4v1.4h-6.4zM465.8,138.8h5.4v1.4h-5.4zM471.8,138.8h1.4v1.4h-1.4zM397.8,139.8h13.4v1.4h-13.4zM411.8,139.8h4.4v1.4h-4.4zM456.8,139.8h13.4v1.4h-13.4zM396.8,140.8h1.4v1.4h-1.4zM398.8,140.8h6.4v1.4h-6.4zM406.8,140.8h2.4v1.4h-2.4zM410.8,140.8h6.4v1.4h-6.4zM451.8,140.8h1.4v1.4h-1.4zM453.8,140.8h1.4v1.4h-1.4zM457.8,140.8h11.4v1.4h-11.4zM469.8,140.8h1.4v1.4h-1.4zM397.8,141.8h12.4v1.4h-12.4zM410.8,141.8h7.4v1.4h-7.4zM423.8,141.8h1.4v1.4h-1.4zM457.8,141.8h10.4v1.4h-10.4zM468.8,141.8h1.4v1.4h-1.4zM397.8,142.8h1.4v1.4h-1.4zM399.8,142.8h4.4v1.4h-4.4zM404.8,142.8h8.4v1.4h-8.4zM413.8,142.8h5.4v1.4h-5.4zM441.8,142.8h1.4v1.4h-1.4zM454.8,142.8h1.4v1.4h-1.4zM456.8,142.8h2.4v1.4h-2.4zM459.8,142.8h8.4v1.4h-8.4zM468.8,142.8h2.4v1.4h-2.4zM399.8,143.8h5.4v1.4h-5.4zM405.8,143.8h12.4v1.4h-12.4zM418.8,143.8h1.4v1.4h-1.4zM420.8,143.8h1.4v1.4h-1.4zM429.8,143.8h1.4v1.4h-1.4zM444.8,143.8h1.4v1.4h-1.4zM455.8,143.8h10.4v1.4h-10.4zM399.8,144.8h3.4v1.4h-3.4zM403.8,144.8h3.4v1.4h-3.4zM407.8,144.8h15.4v1.4h-15.4zM429.8,144.8h2.4v1.4h-2.4zM436.8,144.8h1.4v1.4h-1.4zM445.8,144.8h1.4v1.4h-1.4zM450.8,144.8h1.4v1.4h-1.4zM453.8,144.8h2.4v1.4h-2.4zM456.8,144.8h2.4v1.4h-2.4zM459.8,144.8h5.4v1.4h-5.4zM466.8,144.8h1.4v1.4h-1.4zM400.8,145.8h1.4v1.4h-1.4zM402.8,145.8h1.4v1.4h-1.4zM404.8,145.8h23.4v1.4h-23.4zM428.8,145.8h1.4v1.4h-1.4zM431.8,145.8h1.4v1.4h-1.4zM434.8,145.8h1.4v1.4h-1.4zM440.8,145.8h2.4v1.4h-2.4zM443.8,145.8h1.4v1.4h-1.4zM450.8,145.8h11.4v1.4h-11.4zM462.8,145.8h2.4v1.4h-2.4zM404.8,146.8h1.4v1.4h-1.4zM406.8,146.8h21.4v1.4h-21.4zM428.8,146.8h4.4v1.4h-4.4zM433.8,146.8h5.4v1.4h-5.4zM439.8,146.8h1.4v1.4h-1.4zM441.8,146.8h1.4v1.4h-1.4zM444.8,146.8h1.4v1.4h-1.4zM446.8,146.8h6.4v1.4h-6.4zM453.8,146.8h11.4v1.4h-11.4zM467.8,146.8h1.4v1.4h-1.4zM400.8,147.8h3.4v1.4h-3.4zM405.8,147.8h28.4v1.4h-28.4zM434.8,147.8h29.4v1.4h-29.4zM468.8,147.8h1.4v1.4h-1.4zM401.8,148.8h1.4v1.4h-1.4zM403.8,148.8h1.4v1.4h-1.4zM405.8,148.8h1.4v1.4h-1.4zM407.8,148.8h3.4v1.4h-3.4zM411.8,148.8h9.4v1.4h-9.4zM421.8,148.8h2.4v1.4h-2.4zM424.8,148.8h16.4v1.4h-16.4zM441.8,148.8h9.4v1.4h-9.4zM451.8,148.8h5.4v1.4h-5.4zM457.8,148.8h4.4v1.4h-4.4zM406.8,149.8h2.4v1.4h-2.4zM409.8,149.8h35.4v1.4h-35.4zM445.8,149.8h15.4v1.4h-15.4zM404.8,150.8h1.4v1.4h-1.4zM412.8,150.8h9.4v1.4h-9.4zM422.8,150.8h11.4v1.4h-11.4zM434.8,150.8h25.4v1.4h-25.4zM411.8,151.8h1.4v1.4h-1.4zM416.8,151.8h6.4v1.4h-6.4zM423.8,151.8h8.4v1.4h-8.4zM432.8,151.8h26.4v1.4h-26.4zM460.8,151.8h1.4v1.4h-1.4zM417.8,152.8h41.4v1.4h-41.4zM414.8,153.8h1.4v1.4h-1.4zM418.8,153.8h1.4v1.4h-1.4zM422.8,153.8h18.4v1.4h-18.4zM441.8,153.8h13.4v1.4h-13.4zM416.8,154.8h1.4v1.4h-1.4zM422.8,154.8h1.4v1.4h-1.4zM426.8,154.8h1.4v1.4h-1.4zM430.8,154.8h2.4v1.4h-2.4zM434.8,154.8h19.4v1.4h-19.4zM421.8,155.8h1.4v1.4h-1.4zM426.8,155.8h1.4v1.4h-1.4zM431.8,155.8h1.4v1.4h-1.4zM436.8,155.8h1.4v1.4h-1.4zM439.8,155.8h10.4v1.4h-10.4zM426.8,156.8h2.4v1.4h-2.4zM445.8,156.8h1.4v1.4h-1.4zM447.8,156.8h1.4v1.4h-1.4zM450.8,156.8h1.4v1.4h-1.4zM430.8,157.8h1.4v1.4h-1.4zM448.8,157.8h1.4v1.4h-1.4zM450.8,157.8h1.4v1.4h-1.4zM447.8,158.8h1.4v1.4h-1.4zM451.8,158.8h1.4v1.4h-1.4z"/>
<circle cx="437.0" cy="116.0" r="104.5" fill="none" stroke="#ff0000" stroke-width="1" stroke-dasharray="6 3"/>
<text x="328.60" y="16.78" text-anchor="end" font-family='"Liberation Sans", Arial, Helvetica, sans-serif' font-size="10.0" fill="#000">0.1</text>
<text x="328.90" y="120.98" text-anchor="end" font-family='"Liberation Sans", Arial, Helvetica, sans-serif' font-size="10.0" fill="#000">0</text>
<text x="330.70" y="224.38" text-anchor="end" font-family='"Liberation Sans", Arial, Helvetica, sans-serif' font-size="10.0" fill="#000">−0.1</text>
<text x="331.50" y="235.48" text-anchor="middle" font-family='"Liberation Sans", Arial, Helvetica, sans-serif' font-size="10.0" fill="#000">−0.1</text>
<text x="437.40" y="235.48" text-anchor="middle" font-family='"Liberation Sans", Arial, Helvetica, sans-serif' font-size="10.0" fill="#000">0</text>
<text x="540.70" y="235.48" text-anchor="middle" font-family='"Liberation Sans", Arial, Helvetica, sans-serif' font-size="10.0" fill="#000">0.1</text>
<text x="412.3" y="246.6" font-family='"Liberation Serif", "Times New Roman", serif' font-size="15.0" fill="#000" stroke="#000" stroke-width="0.25" textLength="55.0" lengthAdjust="spacingAndGlyphs" ><tspan font-style="italic">x</tspan><tspan font-style="italic" font-size="10.8" dx="0" dy="2.8">seA</tspan><tspan dy="-2.8">(mm)</tspan></text>
<text transform="translate(306.6,91.6) rotate(90)" font-family='"Liberation Serif", "Times New Roman", serif' font-size="15.0" fill="#000" stroke="#000" stroke-width="0.25" textLength="55.4" lengthAdjust="spacingAndGlyphs"><tspan font-style="italic">y</tspan><tspan font-style="italic" font-size="10.8" dx="2.0" dy="1.5">seA</tspan><tspan dy="-1.5">(mm)</tspan></text>
</svg>
</body></html>
